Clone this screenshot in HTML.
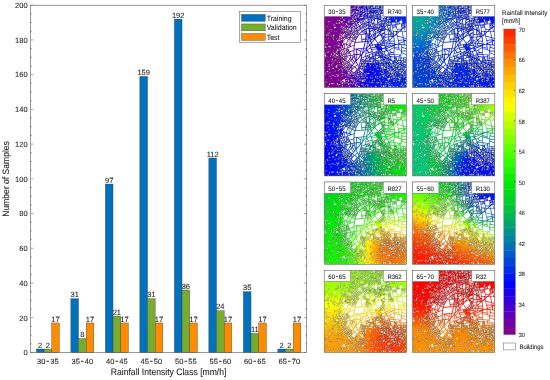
<!DOCTYPE html>
<html lang="en"><head><meta charset="utf-8"><title>Rainfall intensity classes</title>
<style>text{stroke:#262626;stroke-width:0.09px}html,body{margin:0;padding:0;background:#fff}body{width:550px;height:380px;overflow:hidden}</style>
</head><body>
<svg width="550" height="380" viewBox="0 0 550 380" text-rendering="geometricPrecision" style="display:block;font-family:'Liberation Sans',sans-serif">
<rect width="550" height="380" fill="#fff"/>
<g stroke="#333" stroke-width="0.35">
<rect x="36.35" y="349.03" width="7.67" height="3.47" fill="#0072bd"/>
<rect x="44.02" y="349.03" width="7.67" height="3.47" fill="#77ac30"/>
<rect x="51.68" y="322.98" width="7.67" height="29.52" fill="#ff8c00"/>
<rect x="70.85" y="298.67" width="7.67" height="53.83" fill="#0072bd"/>
<rect x="78.52" y="338.61" width="7.67" height="13.89" fill="#77ac30"/>
<rect x="86.18" y="322.98" width="7.67" height="29.52" fill="#ff8c00"/>
<rect x="105.35" y="184.06" width="7.67" height="168.44" fill="#0072bd"/>
<rect x="113.02" y="316.03" width="7.67" height="36.47" fill="#77ac30"/>
<rect x="120.68" y="322.98" width="7.67" height="29.52" fill="#ff8c00"/>
<rect x="139.85" y="76.40" width="7.67" height="276.10" fill="#0072bd"/>
<rect x="147.52" y="298.67" width="7.67" height="53.83" fill="#77ac30"/>
<rect x="155.18" y="322.98" width="7.67" height="29.52" fill="#ff8c00"/>
<rect x="174.35" y="19.09" width="7.67" height="333.41" fill="#0072bd"/>
<rect x="182.02" y="289.99" width="7.67" height="62.51" fill="#77ac30"/>
<rect x="189.68" y="322.98" width="7.67" height="29.52" fill="#ff8c00"/>
<rect x="208.85" y="158.01" width="7.67" height="194.49" fill="#0072bd"/>
<rect x="216.52" y="310.82" width="7.67" height="41.68" fill="#77ac30"/>
<rect x="224.18" y="322.98" width="7.67" height="29.52" fill="#ff8c00"/>
<rect x="243.35" y="291.72" width="7.67" height="60.78" fill="#0072bd"/>
<rect x="251.02" y="333.40" width="7.67" height="19.10" fill="#77ac30"/>
<rect x="258.68" y="322.98" width="7.67" height="29.52" fill="#ff8c00"/>
<rect x="277.85" y="349.03" width="7.67" height="3.47" fill="#0072bd"/>
<rect x="285.52" y="349.03" width="7.67" height="3.47" fill="#77ac30"/>
<rect x="293.18" y="322.98" width="7.67" height="29.52" fill="#ff8c00"/>
</g>
<g font-size="7.5" fill="#262626" text-anchor="middle">
<text x="40.18" y="347.63">2</text>
<text x="47.85" y="347.63">2</text>
<text x="55.52" y="321.58">17</text>
<text x="74.68" y="297.27">31</text>
<text x="82.35" y="337.21">8</text>
<text x="90.02" y="321.58">17</text>
<text x="109.18" y="182.66">97</text>
<text x="116.85" y="314.63">21</text>
<text x="124.52" y="321.58">17</text>
<text x="143.68" y="75.00">159</text>
<text x="151.35" y="297.27">31</text>
<text x="159.02" y="321.58">17</text>
<text x="178.18" y="17.69">192</text>
<text x="185.85" y="288.59">36</text>
<text x="193.52" y="321.58">17</text>
<text x="212.68" y="156.61">112</text>
<text x="220.35" y="309.42">24</text>
<text x="228.02" y="321.58">17</text>
<text x="247.18" y="290.32">35</text>
<text x="254.85" y="332.00">11</text>
<text x="262.52" y="321.58">17</text>
<text x="281.68" y="347.63">2</text>
<text x="289.35" y="347.63">2</text>
<text x="297.02" y="321.58">17</text>
</g>
<rect x="30.6" y="5.2" width="276.00" height="347.30" fill="none" stroke="#555" stroke-width="0.6"/>
<path d="M30.6 352.50h2.8M306.6 352.50h-2.8M30.6 343.82h1.4M306.6 343.82h-1.4M30.6 335.13h1.4M306.6 335.13h-1.4M30.6 326.45h1.4M306.6 326.45h-1.4M30.6 317.77h2.8M306.6 317.77h-2.8M30.6 309.09h1.4M306.6 309.09h-1.4M30.6 300.40h1.4M306.6 300.40h-1.4M30.6 291.72h1.4M306.6 291.72h-1.4M30.6 283.04h2.8M306.6 283.04h-2.8M30.6 274.36h1.4M306.6 274.36h-1.4M30.6 265.68h1.4M306.6 265.68h-1.4M30.6 256.99h1.4M306.6 256.99h-1.4M30.6 248.31h2.8M306.6 248.31h-2.8M30.6 239.63h1.4M306.6 239.63h-1.4M30.6 230.94h1.4M306.6 230.94h-1.4M30.6 222.26h1.4M306.6 222.26h-1.4M30.6 213.58h2.8M306.6 213.58h-2.8M30.6 204.90h1.4M306.6 204.90h-1.4M30.6 196.21h1.4M306.6 196.21h-1.4M30.6 187.53h1.4M306.6 187.53h-1.4M30.6 178.85h2.8M306.6 178.85h-2.8M30.6 170.17h1.4M306.6 170.17h-1.4M30.6 161.48h1.4M306.6 161.48h-1.4M30.6 152.80h1.4M306.6 152.80h-1.4M30.6 144.12h2.8M306.6 144.12h-2.8M30.6 135.44h1.4M306.6 135.44h-1.4M30.6 126.75h1.4M306.6 126.75h-1.4M30.6 118.07h1.4M306.6 118.07h-1.4M30.6 109.39h2.8M306.6 109.39h-2.8M30.6 100.71h1.4M306.6 100.71h-1.4M30.6 92.02h1.4M306.6 92.02h-1.4M30.6 83.34h1.4M306.6 83.34h-1.4M30.6 74.66h2.8M306.6 74.66h-2.8M30.6 65.98h1.4M306.6 65.98h-1.4M30.6 57.29h1.4M306.6 57.29h-1.4M30.6 48.61h1.4M306.6 48.61h-1.4M30.6 39.93h2.8M306.6 39.93h-2.8M30.6 31.25h1.4M306.6 31.25h-1.4M30.6 22.56h1.4M306.6 22.56h-1.4M30.6 13.88h1.4M306.6 13.88h-1.4M30.6 5.20h2.8M306.6 5.20h-2.8" stroke="#555" stroke-width="0.5" fill="none"/>
<g font-size="7.5" fill="#262626" text-anchor="end">
<text x="27.6" y="355.25">0</text>
<text x="27.6" y="320.52">20</text>
<text x="27.6" y="285.79">40</text>
<text x="27.6" y="251.06">60</text>
<text x="27.6" y="216.33">80</text>
<text x="27.6" y="181.60">100</text>
<text x="27.6" y="146.87">120</text>
<text x="27.6" y="112.14">140</text>
<text x="27.6" y="77.41">160</text>
<text x="27.6" y="42.68">180</text>
<text x="27.6" y="7.95">200</text>
</g>
<g font-size="7.5" fill="#262626" text-anchor="middle">
<text x="47.85" y="363.8">30<tspan font-size="10.5" dx="0.7">-</tspan><tspan dx="0.7">35</tspan></text>
<text x="82.35" y="363.8">35<tspan font-size="10.5" dx="0.7">-</tspan><tspan dx="0.7">40</tspan></text>
<text x="116.85" y="363.8">40<tspan font-size="10.5" dx="0.7">-</tspan><tspan dx="0.7">45</tspan></text>
<text x="151.35" y="363.8">45<tspan font-size="10.5" dx="0.7">-</tspan><tspan dx="0.7">50</tspan></text>
<text x="185.85" y="363.8">50<tspan font-size="10.5" dx="0.7">-</tspan><tspan dx="0.7">55</tspan></text>
<text x="220.35" y="363.8">55<tspan font-size="10.5" dx="0.7">-</tspan><tspan dx="0.7">60</tspan></text>
<text x="254.85" y="363.8">60<tspan font-size="10.5" dx="0.7">-</tspan><tspan dx="0.7">65</tspan></text>
<text x="289.35" y="363.8">65<tspan font-size="10.5" dx="0.7">-</tspan><tspan dx="0.7">70</tspan></text>
</g>
<text transform="translate(168.60 374.8) scale(0.92 1)" font-size="9.35" fill="#262626" text-anchor="middle">Rainfall Intensity Class [mm/h]</text>
<text transform="translate(9.3 178.9) rotate(-90) scale(0.92 1)" font-size="9.3" fill="#262626" text-anchor="middle">Number of Samples</text>
<rect x="239.3" y="11.5" width="61.4" height="31" fill="#fff" stroke="#555" stroke-width="0.5"/>
<rect x="241.5" y="14.40" width="23.7" height="6.9" fill="#0072bd" stroke="#333" stroke-width="0.35"/>
<text transform="translate(266.7 20.70) scale(0.915 1)" font-size="7.6" fill="#262626">Training</text>
<rect x="241.5" y="23.95" width="23.7" height="6.9" fill="#77ac30" stroke="#333" stroke-width="0.35"/>
<text transform="translate(266.7 30.25) scale(0.915 1)" font-size="7.6" fill="#262626">Validation</text>
<rect x="241.5" y="33.50" width="23.7" height="6.9" fill="#ff8c00" stroke="#333" stroke-width="0.35"/>
<text transform="translate(266.7 39.80) scale(0.915 1)" font-size="7.6" fill="#262626">Test</text>
<defs>
<g id="bld" fill="#fff" stroke="#111"><path d="M71.2 3.3 71.9 2.9 70.8 2.4ZM70.3 10.8 71.2 10.7 71.6 9.6 69.9 9.0ZM75.6 10.6 76.4 8.5 75.0 7.5 74.1 10.7ZM79.5 9.0 78.5 8.5 78.5 9.3 79.3 9.8ZM82.1 10.4 82.1 7.4 80.5 6.7 79.6 10.5ZM78.2 18.0 77.8 14.8 74.9 16.1 75.6 18.4ZM58.1 7.8 58.5 5.5 57.6 5.4 57.8 7.9ZM56.6 10.7 61.9 9.4 61.7 7.6 56.3 8.9ZM56.7 12.1 60.2 12.6 60.7 10.2 56.6 11.2ZM57.2 14.7 59.3 14.5 59.0 13.1 56.9 12.7ZM61.1 14.4 61.5 13.4 59.7 13.1 60.0 14.5ZM67.6 6.2 68.1 6.7 68.7 5.9ZM59.7 17.7 60.3 16.2 60.2 15.1 59.4 15.2 58.9 17.7ZM71.6 19.0 71.2 17.2 67.7 17.5 67.8 19.5ZM46.6 17.2 47.0 15.6 44.6 16.7ZM49.2 17.8 49.9 14.5 47.8 15.4 47.3 17.3ZM52.7 18.8 53.0 13.6 52.1 13.4 50.8 13.9 49.9 18.1ZM56.3 14.4 53.7 15.1 53.6 16.6 56.5 16.0ZM42.5 24.0 42.8 28.3 44.7 28.2 44.8 27.5 44.4 23.6 43.3 23.8ZM45.5 23.5 45.1 23.5 45.3 24.8ZM42.0 26.6 41.9 24.3 40.9 24.6ZM38.7 28.6 38.3 26.2 35.6 28.8ZM37.5 36.3 36.5 29.2 35.2 29.3 33.8 31.2 32.2 34.3 31.3 36.7ZM40.8 35.9 41.0 34.1 37.9 34.4 38.2 36.1ZM41.5 29.1 37.1 29.3 37.8 33.6 41.1 33.2ZM39.1 42.8 40.5 37.3 40.9 37.1 41.2 37.2 41.3 37.5 39.9 42.7 42.1 42.5 43.1 36.6 31.1 37.4 30.3 41.5 30.1 43.5ZM30.1 44.3 30.3 48.9 32.4 48.7 31.6 44.2ZM33.2 48.7 35.9 48.5 36.3 46.5 32.4 44.2ZM36.9 43.7 33.5 44.0 36.5 45.7ZM31.0 52.8 31.6 54.5 31.6 49.6 30.4 49.7ZM35.5 50.8 35.7 49.3 32.4 49.6 32.4 54.4ZM40.8 50.9 41.9 44.4 38.4 48.6 37.4 52.4ZM39.8 43.3 38.8 46.9 42.1 43.1ZM37.5 43.5 36.3 49.9 37.7 48.3 39.0 43.4ZM48.6 47.5 48.2 46.6 41.7 48.8 41.5 50.6ZM46.3 43.0 43.3 44.8 44.7 47.0 47.7 45.9ZM42.4 45.2 41.9 48.1 44.0 47.4 42.6 45.1ZM42.8 42.3 45.0 39.7 43.7 36.9ZM42.4 44.6 46.2 42.3 45.3 40.4 42.5 43.8ZM53.6 45.3 53.0 44.1 47.7 44.2 49.1 47.3ZM51.8 42.2 47.2 42.9 47.5 43.6 52.5 43.5ZM46.2 40.9 46.8 42.3 50.7 41.7 50.6 39.7ZM50.5 34.3 47.7 37.6 48.9 39.5 53.6 38.2ZM49.8 33.5 46.4 35.4 47.3 36.9 50.0 33.7ZM44.3 36.7 45.4 39.2 46.8 37.5 46.5 36.9 46.1 37.0 45.9 36.8 45.7 35.9ZM46.0 40.3 48.2 39.6 47.3 38.2 45.8 39.9ZM61.2 41.8 60.6 40.4 57.6 40.4 56.9 41.2 58.4 43.0ZM56.3 29.8 52.5 32.0 51.0 33.8 54.0 37.6 57.9 33.7ZM55.6 28.3 53.8 30.4 56.0 29.2ZM55.0 26.9 51.8 28.4 51.1 32.0 51.9 31.5 55.3 27.5ZM48.8 23.7 46.2 23.4 45.7 26.1ZM47.5 29.6 49.7 28.5 48.3 25.2 45.8 27.1ZM51.4 27.8 49.5 24.2 48.9 24.7 50.4 28.3ZM44.7 31.8 45.2 31.5 45.0 29.7ZM47.1 30.5 45.6 28.2 45.9 31.1ZM48.8 33.2 47.5 31.2 46.3 31.8 47.5 33.9ZM37.2 53.4 41.1 54.7 41.7 51.3 37.2 53.2ZM45.4 52.7 42.1 53.6 42.0 54.5 44.9 54.5ZM48.4 53.8 47.5 53.6 46.1 55.7 48.5 56.4ZM45.3 49.7 45.9 51.6 48.5 50.9 47.5 48.7ZM56.1 52.2 51.4 54.1 51.4 54.5 56.5 55.4ZM54.4 45.6 54.7 46.8 55.2 46.9 55.0 45.4ZM51.5 53.4 53.7 52.5 53.5 50.7 51.4 50.7ZM55.2 51.9 54.9 50.6 54.1 50.6 54.3 52.3ZM68.4 58.3 67.3 55.6 66.3 55.1 65.3 55.7 66.9 58.3ZM64.9 55.2 65.6 54.8 64.3 54.2ZM63.0 45.7 60.2 46.4 61.7 50.0 64.3 48.8ZM62.1 43.8 61.7 44.0 62.5 45.0 62.6 44.9ZM61.6 42.5 60.9 42.8 61.3 43.3 61.8 43.1ZM57.9 44.1 58.2 46.1 61.7 45.2 60.2 43.1ZM69.1 56.5 68.2 56.0 68.9 57.6ZM70.0 52.3 66.3 51.6 67.7 55.0 69.3 55.7ZM70.5 49.6 65.3 49.2 66.0 50.8 70.1 51.5ZM76.4 50.1 75.6 50.0 74.9 54.9 76.1 54.8ZM71.1 49.5 70.8 51.3 74.8 50.9 74.9 49.8ZM74.2 55.1 74.6 51.5 72.3 51.7 73.3 55.1ZM76.9 45.5 70.3 43.5 70.0 48.9 76.6 49.4ZM77.3 39.7 74.7 39.4 75.2 44.4 76.9 44.9ZM73.1 39.3 70.6 40.3 70.5 41.6 74.3 42.5 74.0 39.4ZM70.7 39.0 70.6 39.5 71.5 39.1ZM70.3 42.9 74.6 44.2 74.5 43.3 70.3 42.3ZM65.6 38.4 64.8 40.4 69.9 39.3 69.9 38.9ZM63.1 38.1 63.1 40.8 64.0 40.6 64.9 38.3ZM60.5 37.9 61.8 41.0 62.3 40.9 62.4 38.1ZM62.5 42.8 68.7 40.3 62.0 41.7ZM63.6 45.4 69.8 41.7 69.8 40.6 62.8 43.5ZM64.5 47.5 66.8 47.1 65.2 45.2 63.9 46.0ZM69.5 46.7 69.7 42.5 65.7 44.9 67.6 47.0ZM64.9 48.4 69.4 48.8 69.5 47.4 64.7 48.1ZM81.9 52.7 79.7 53.0 80.0 54.3 81.9 53.9ZM77.0 53.1 76.8 55.0 79.3 54.5 78.9 53.0ZM82.0 49.6 77.3 47.8 76.9 52.5 82.0 52.0ZM81.9 46.0 77.6 46.2 77.5 47.2 81.9 48.9ZM82.0 43.7 77.8 42.5 77.5 45.4 82.0 45.3ZM81.9 40.2 78.0 39.8 77.9 41.8 81.9 42.9ZM81.9 35.6 80.2 36.3 80.5 39.3 81.9 39.4ZM81.9 33.5 79.8 32.9 80.0 34.5 81.9 34.7ZM73.4 31.1 74.3 34.8 79.3 34.2 79.1 32.6ZM75.1 37.6 79.4 35.9 79.2 34.9 74.6 35.4ZM75.3 38.7 79.7 39.2 79.4 36.6 75.2 38.4ZM82.0 26.8 78.4 26.6 79.4 32.1 82.0 32.8ZM75.3 26.5 72.9 28.6 73.4 30.5 78.7 31.9 77.8 26.6ZM72.4 26.4 72.7 27.8 74.2 26.5ZM69.4 26.3 69.9 30.2 72.1 28.3 71.6 26.4ZM70.8 38.4 72.8 38.6 74.5 37.9 72.6 29.7 70.5 30.7 69.9 31.3ZM82.0 22.8 80.5 22.7 81.3 26.2 82.0 26.2ZM79.8 22.6 77.8 24.4 77.8 26.1 80.8 26.2 80.0 22.6ZM77.7 22.3 77.7 23.4 78.8 22.4ZM82.0 21.3 81.3 21.3 80.4 22.1 82.0 22.2ZM77.7 20.9 77.7 21.8 79.4 22.0 80.3 21.1ZM72.0 19.5 73.1 23.8 77.2 23.6 77.0 18.8ZM73.5 25.9 74.8 25.9 76.9 24.2 73.1 24.3ZM77.4 26.1 77.3 24.8 75.9 26.0ZM69.2 25.6 73.0 25.8 72.0 21.9 68.7 22.4ZM66.1 20.3 67.4 27.0 68.9 27.9 67.9 20.1ZM61.8 21.0 60.6 22.5 63.8 24.5 63.0 20.9ZM59.0 21.4 59.9 22.0 60.7 21.2ZM56.6 28.7 60.4 26.7 60.4 25.1 57.6 26.0 56.1 27.7ZM64.5 31.2 64.1 29.2 61.1 29.6 61.0 31.6ZM63.3 24.9 62.5 24.4 61.1 24.8 61.0 29.0 64.1 28.5ZM64.1 33.7 63.4 32.0 59.8 32.4 61.7 35.2ZM60.1 37.1 62.2 37.4 62.2 36.9 64.6 34.9 64.3 34.3 60.0 37.0ZM65.8 37.8 64.9 35.6 62.8 37.4ZM70.2 38.1 69.9 36.2 65.9 36.3 66.5 37.8ZM69.3 31.8 65.4 35.1 65.6 35.5 69.8 35.4ZM64.1 32.0 65.1 34.4 68.4 31.6ZM35.2 61.2 35.6 61.8 37.2 58.3 36.0 58.3ZM34.4 64.3 34.9 64.6 34.9 63.0 34.7 63.0ZM33.8 66.7 34.9 66.9 34.9 65.6 34.2 65.1ZM37.3 67.4 35.5 66.1 35.5 67.1ZM39.1 67.7 39.0 65.7 37.6 64.8 35.8 63.1 35.5 63.0 35.5 65.1ZM38.9 63.8 37.3 63.4 38.1 64.2 38.9 64.7ZM33.4 68.2 34.6 69.3 34.7 67.7 33.6 67.5ZM32.8 70.6 34.5 70.8 34.5 70.4 33.2 69.1ZM45.1 67.8 43.0 67.7 43.4 68.6 45.2 68.7ZM48.6 73.3 48.1 72.3 47.7 72.3 47.7 73.3ZM45.5 61.1 46.8 61.0 46.8 60.0 45.4 60.3ZM61.2 81.9 61.4 79.8 60.7 80.0 60.4 81.9ZM66.5 81.9 66.3 80.2 65.4 80.4 65.0 81.9ZM72.4 76.5 72.6 75.6 71.4 76.0ZM45.9 78.8 46.0 78.5 45.2 78.5 45.3 78.8ZM46.5 77.5 45.1 77.5 45.2 77.7 46.4 77.8ZM37.6 76.3 39.1 76.7 39.6 74.5 38.0 74.5ZM35.4 74.3 34.9 74.4 34.5 75.2 35.3 75.5ZM24.5 74.5 23.5 74.7 24.0 76.5 24.7 76.2ZM17.6 75.0 21.3 77.4 20.4 73.8ZM5.7 63.4 4.7 63.1 4.7 64.3 5.8 64.3ZM7.2 69.5 7.3 70.4 7.5 70.4 7.6 69.4ZM11.9 48.6 12.2 50.9 14.5 50.5ZM8.2 56.9 7.8 56.0 7.3 56.5ZM2.5 51.6 3.1 51.6 3.2 50.6ZM1.8 49.6 0.4 49.0 0.4 50.8 1.5 51.7ZM26.6 11.7 25.2 10.4 25.1 11.6ZM22.5 7.3 23.1 6.7 21.9 5.2 21.5 5.6ZM38.8 12.8 39.6 11.0 35.5 11.9 35.5 12.5ZM40.7 8.3 38.5 7.4 38.2 8.0 40.5 8.9ZM4.2 22.5 3.8 21.7 3.4 22.8ZM9.7 21.7 9.9 23.0 12.2 22.8 11.4 21.4ZM9.3 19.3 9.4 20.4 10.4 20.2 10.3 19.2ZM6.6 41.1 6.0 40.4 3.5 41.4 4.1 41.8ZM12.3 39.5 12.5 39.1 11.3 38.7 11.2 38.8ZM14.2 36.9 13.9 39.0 14.3 39.0 14.5 36.9ZM18.3 33.9 16.7 33.1 16.3 34.1 18.0 34.9ZM19.9 28.3 17.8 30.8 19.3 31.7 21.0 28.1ZM16.3 23.2 16.2 23.8 16.6 23.8 16.6 23.5ZM24.5 22.4 24.1 22.1 22.3 23.1 23.3 24.2ZM40.6 14.4 43.1 16.8 43.6 16.4 43.2 12.9ZM39.0 15.4 40.4 17.4 41.6 16.0 40.2 14.7ZM33.4 21.8 35.0 20.5 34.4 19.8 32.3 20.4ZM36.9 19.2 35.6 16.8 33.8 18.1 35.5 20.2ZM35.2 28.1 37.5 25.8 36.6 24.1 33.9 26.4ZM39.1 22.8 37.0 23.8 37.9 25.5 39.9 24.3ZM37.3 19.6 35.8 20.7 38.9 22.4ZM24.3 24.1 26.3 25.2 27.1 23.8 25.1 23.0ZM21.9 38.5 23.6 33.9 21.8 33.0 18.6 37.1ZM20.0 32.1 19.1 34.1 18.4 36.1 21.1 32.6ZM24.8 39.7 24.5 34.3 24.1 34.2 22.5 38.7ZM25.3 40.0 27.4 35.7 25.0 34.5ZM27.0 40.6 29.9 39.5 30.3 37.3 27.9 36.1 26.0 40.2ZM18.7 39.6 19.3 38.2 18.2 37.6 17.6 38.4ZM16.5 44.8 17.3 43.1 16.5 42.8 16.1 44.9ZM19.7 43.4 18.2 42.5 17.4 44.4ZM18.5 41.8 20.3 43.0 19.8 38.9ZM23.3 42.2 21.2 38.8 20.4 38.4 20.9 43.1ZM26.0 41.0 22.3 39.4 23.8 41.8ZM26.2 49.8 25.5 48.3 22.0 49.5 22.4 50.5ZM29.5 49.2 29.3 45.8 25.7 46.7 26.9 49.7ZM23.8 42.6 25.3 46.0 29.3 45.0 29.5 41.4 29.7 40.3ZM26.0 51.6 25.8 50.6 23.6 51.0 22.0 55.1 23.5 56.2ZM24.6 57.0 26.6 54.5 26.2 52.7 24.1 56.6ZM26.7 55.4 25.1 57.4 28.1 59.6 28.9 58.6ZM27.8 54.3 27.2 55.0 29.3 58.1 30.2 57.1ZM31.2 55.9 30.2 53.0 30.0 51.7 28.4 53.7 30.7 56.5ZM19.5 64.1 18.8 63.0 19.1 64.3ZM26.7 69.2 25.8 68.8 25.4 69.4 26.0 69.9ZM32.6 63.9 30.3 62.2 27.3 65.4 29.9 67.3ZM29.0 62.6 29.8 61.8 28.2 60.6 27.4 61.6ZM30.9 61.7 33.7 63.8 34.3 61.3 33.2 59.8ZM32.9 59.2 31.6 56.7 28.7 60.1 30.4 61.3ZM33.8 59.3 34.6 60.4 37.3 50.0 32.1 56.0ZM7.1 50.8 7.4 50.5 6.4 49.8 6.3 50.0Z" stroke-opacity="0.3" stroke-width="0.15"/><path d="M81.4 0.3 81.3 0.9 82.0 1.0 82.0 0.3ZM80.5 0.3 80.4 0.8 80.9 0.8 81.0 0.3ZM79.8 2.0 80.9 2.1 80.8 1.5 79.9 1.4ZM79.5 3.1 81.3 3.5 81.0 2.4 79.7 2.3ZM82.0 3.6 82.0 1.5 81.4 1.5 81.8 3.6ZM78.0 5.0 78.6 5.2 79.2 3.6 78.3 3.4ZM78.9 5.4 79.3 4.4 79.2 4.3 78.8 5.4ZM79.7 5.7 80.0 4.8 79.5 4.6 79.1 5.5ZM80.6 6.2 80.9 5.2 80.2 4.8 79.9 5.9ZM81.2 4.0 79.5 3.6 79.3 4.2 80.9 5.0ZM82.0 6.8 82.0 4.2 81.7 4.1 81.1 6.4ZM76.4 0.3 76.7 1.4 77.8 0.3ZM74.6 0.3 74.9 1.5 76.3 1.3 76.1 0.3ZM75.2 2.8 76.3 1.7 76.3 1.6 75.0 1.8ZM74.1 0.2 74.1 3.2 74.6 3.4 74.7 3.3ZM75.7 4.0 76.4 2.8 76.1 2.7 75.0 3.7ZM77.5 4.8 77.6 4.6 76.9 4.1 76.7 4.4ZM77.7 3.2 77.2 3.9 77.5 4.2ZM78.2 0.8 76.3 2.5 77.8 2.8ZM72.0 2.2 73.6 1.5 73.6 1.0 71.9 1.2ZM73.6 2.9 73.6 1.8 72.3 2.3ZM70.8 0.3 70.6 1.6 71.7 2.1 71.5 0.3ZM68.2 0.3 68.1 0.5 69.1 0.9 69.2 0.3ZM68.5 2.8 69.9 1.9 69.4 1.6 68.2 1.6ZM68.9 4.6 70.7 3.7 70.1 2.3 68.6 3.4ZM71.3 7.1 71.8 6.3 71.3 5.6 70.4 6.8ZM72.9 4.6 72.2 4.3 71.6 5.1 72.1 5.8ZM72.7 7.8 72.9 7.2 72.1 6.9 71.8 7.4ZM73.2 8.0 73.4 7.4 73.1 7.3 73.0 7.9ZM74.2 8.3 74.3 7.9 73.7 7.6 73.5 8.0ZM72.8 5.8 72.5 6.4 73.1 6.6 73.3 6.0ZM75.1 5.5 74.1 5.2 74.0 5.8 74.9 6.0ZM75.4 4.4 74.8 4.1 74.3 5.0 75.2 5.3ZM72.9 5.6 73.7 5.8 74.0 3.8ZM69.8 8.4 70.4 8.6 70.6 7.5 69.5 7.0ZM72.7 10.6 73.3 9.7 72.3 9.2 71.8 10.7ZM73.5 10.6 73.7 10.0 73.6 9.9 73.1 10.6ZM74.1 8.9 72.6 8.3 72.3 8.9 73.9 9.7ZM77.4 10.5 76.4 9.9 76.2 10.6ZM77.9 10.6 77.9 9.5 76.8 8.7 76.5 9.7ZM79.1 10.5 79.2 10.4 78.1 9.6 78.1 10.5ZM79.7 7.9 78.5 7.6 78.5 8.0 79.6 8.5ZM77.7 5.5 76.6 8.0 78.0 8.9 77.9 5.5ZM75.9 4.7 75.7 5.6 75.8 5.6 76.4 4.9ZM75.2 7.0 76.1 7.7 76.6 6.5 75.5 6.2ZM71.7 16.6 72.7 16.2 72.8 14.2 71.2 14.5ZM77.6 14.2 77.4 13.7 76.5 14.3 76.6 14.7ZM72.0 17.9 73.6 17.4 73.2 16.7 71.9 17.3ZM72.2 19.0 73.5 18.8 73.2 17.8 72.0 18.2ZM74.3 18.7 73.8 17.7 73.5 17.8 73.8 18.7ZM75.0 18.6 74.2 16.2 73.4 16.6 74.6 18.6ZM65.8 0.3 65.7 0.5 67.2 0.6 67.3 0.3ZM64.1 0.2 64.1 0.6 65.4 0.6 65.5 0.2ZM64.0 2.2 65.4 1.6 65.0 1.2 64.1 1.1ZM66.9 1.2 65.4 1.1 65.8 1.6ZM61.0 0.2 62.7 2.7 63.4 2.5 63.6 0.2ZM64.9 4.2 64.7 2.6 63.7 2.9 64.0 4.4ZM64.9 5.8 65.1 5.3 65.0 4.5 64.1 4.7ZM66.3 5.8 66.1 5.0 65.8 5.7 65.8 6.0ZM67.5 5.6 67.0 4.4 66.6 4.5 67.0 5.7ZM67.9 2.6 67.1 2.7 66.6 3.9 68.2 3.5ZM67.8 2.1 67.6 1.5 67.3 2.1ZM65.2 2.3 65.5 4.2 66.0 3.2 65.9 2.1ZM58.6 0.3 59.3 1.4 60.9 1.0 60.4 0.3ZM60.2 3.0 60.7 2.6 60.3 1.8 59.6 1.9ZM61.5 1.9 61.3 1.5 60.5 1.7 60.9 2.4ZM60.6 3.5 61.9 2.4 61.7 2.1 60.4 3.2ZM61.4 5.0 62.3 4.4 61.5 3.5 60.8 4.0ZM62.0 6.1 63.8 5.1 63.3 4.4 61.6 5.4ZM62.5 6.8 63.3 6.6 63.1 5.8 62.2 6.3ZM64.5 6.3 63.9 5.4 63.4 5.7 63.7 6.5ZM57.3 0.3 58.1 1.1 58.4 0.9 58.0 0.3ZM56.2 0.2 56.7 1.6 57.8 1.2 57.0 0.2ZM57.0 2.2 58.1 2.1 58.5 1.1 56.8 1.8ZM55.4 0.3 55.5 1.0 56.1 0.8 56.0 0.3ZM55.9 4.5 56.2 4.5 56.1 2.6 55.7 2.7ZM56.8 4.6 57.9 2.4 56.5 2.6 56.6 4.5ZM58.7 4.8 57.6 3.9 57.2 4.6ZM59.4 2.8 58.1 3.9 58.8 4.5 60.0 3.7ZM58.7 1.5 58.4 2.1 59.1 2.6 59.2 2.5ZM57.6 3.6 57.9 3.8 59.0 2.8 58.2 2.3ZM55.9 5.2 57.0 5.4 56.9 5.2 55.9 5.0ZM56.1 6.5 57.0 6.6 56.9 5.7 56.0 5.5ZM56.4 8.3 57.1 8.1 57.0 7.0 56.2 6.8ZM59.4 7.6 59.1 6.3 58.8 7.7ZM61.2 7.2 59.6 5.5 59.4 5.5 59.9 7.5ZM61.9 7.0 61.2 5.7 60.0 5.6 61.4 7.1ZM61.8 12.8 61.9 12.5 61.1 11.1 60.8 12.6ZM61.9 10.6 61.2 10.4 61.1 10.6 62.1 12.2ZM64.5 14.1 64.5 12.5 62.7 12.7 62.7 14.3ZM65.6 14.0 65.9 12.4 65.1 12.5 65.1 14.0ZM68.2 13.7 68.2 12.2 67.9 12.2 67.9 13.7ZM70.5 13.6 70.1 11.9 69.8 11.9 69.9 13.6ZM69.7 10.4 69.0 10.4 68.9 11.5 69.9 11.4ZM68.3 9.6 68.3 10.1 69.6 10.0ZM66.6 8.8 66.5 9.0 67.8 9.6 67.8 9.3ZM66.4 10.1 67.7 9.8 66.6 9.3ZM69.2 8.3 67.9 8.8 69.4 9.3ZM68.8 6.6 68.4 7.1 69.1 8.0ZM66.0 6.5 65.8 8.1 66.8 8.4 67.8 7.1 67.0 6.3ZM65.3 6.7 64.6 8.4 64.4 8.8 65.2 8.8 65.4 6.7ZM62.2 7.5 62.3 8.7 63.6 8.8 64.4 7.0ZM62.4 10.1 63.0 10.1 63.2 9.3 62.4 9.3ZM65.1 10.3 65.2 9.4 64.2 9.4 64.0 9.6 64.4 10.2ZM63.2 12.1 63.4 11.8 63.3 11.4 62.9 12.2ZM63.9 10.7 63.5 10.8 63.4 11.1 63.5 11.5ZM64.9 11.9 65.0 10.5 64.2 10.5 63.5 12.1ZM57.2 15.6 58.6 15.8 58.7 15.3 57.2 15.4ZM57.5 17.9 58.3 17.8 58.6 16.1 57.2 16.0ZM61.3 17.5 61.7 16.0 61.2 16.0 60.9 16.7 61.0 17.5ZM61.9 15.0 61.7 15.0 61.5 15.7 61.7 15.7ZM62.7 17.4 62.9 16.4 61.9 16.1 61.6 17.5ZM64.0 17.3 64.1 16.8 63.1 16.5 62.9 17.4ZM64.2 15.9 62.7 15.8 62.5 16.1 64.1 16.6ZM64.5 14.6 63.3 14.7 62.8 15.5 64.3 15.7ZM62.3 14.9 62.0 15.9 62.3 16.0 62.9 14.9ZM65.7 17.1 65.5 16.1 64.8 16.0 64.6 17.2ZM66.7 17.0 66.6 16.2 65.8 16.1 66.0 17.1ZM66.4 14.5 65.0 14.6 64.9 15.7 66.5 15.9ZM57.7 19.5 58.7 19.7 58.5 18.3 57.5 18.4ZM58.8 18.3 58.9 19.4 59.4 18.2ZM57.8 21.0 58.2 20.9 58.7 19.9 57.7 19.8ZM59.7 20.7 59.7 20.1 59.4 20.1 59.1 20.8ZM60.2 20.6 60.6 18.1 60.3 18.2 60.0 18.9 59.9 20.7ZM62.4 20.4 62.1 19.1 60.6 19.8 60.5 20.6ZM61.9 18.0 60.9 18.1 60.7 19.6 62.1 18.9ZM63.0 20.3 63.2 19.0 62.3 18.9 62.6 20.3ZM64.7 20.0 64.5 19.2 63.5 19.1 63.3 20.2ZM64.3 17.8 62.2 18.0 62.3 18.7 64.5 18.9ZM66.4 19.7 66.2 17.6 64.9 17.8 65.3 19.9ZM67.2 19.6 67.1 17.6 66.6 17.6 66.8 19.7ZM53.3 0.3 53.4 1.5 54.9 1.0 54.8 0.3ZM53.5 2.7 55.1 2.5 54.9 1.3 53.4 1.8ZM52.3 0.3 52.2 1.0 52.7 1.0 52.7 0.3ZM51.5 0.3 51.5 1.0 52.0 1.0 52.1 0.3ZM51.5 1.9 53.2 2.1 53.2 1.2 51.5 1.3ZM51.5 3.1 53.3 2.8 53.2 2.3 51.5 2.2ZM49.0 0.3 49.2 2.4 50.9 2.1 51.0 0.3ZM50.9 3.2 51.0 2.3 50.3 2.4 50.7 3.2ZM49.4 5.1 50.7 4.9 50.6 3.7 49.3 3.9ZM52.0 6.8 52.0 6.5 51.2 6.1 51.2 6.8ZM52.7 5.0 52.4 5.0 52.3 6.1 53.2 6.4ZM52.1 3.5 51.1 3.7 51.2 4.7 52.6 4.7ZM49.8 8.4 50.7 8.3 50.5 7.3 49.7 7.2ZM51.6 8.2 51.4 7.3 50.9 7.3 51.0 8.2ZM49.9 9.7 51.9 9.3 51.8 8.4 49.8 8.6ZM53.0 9.0 51.9 7.3 51.7 7.3 52.1 9.2ZM54.0 8.8 53.5 7.4 52.3 7.4 53.3 8.9ZM55.8 8.4 55.5 6.7 54.2 7.4 54.6 8.7ZM55.5 5.9 53.8 6.5 54.0 7.2 55.6 6.4ZM55.3 4.7 53.5 5.6 53.7 6.3 55.5 5.7ZM55.2 3.5 54.3 4.3 54.5 4.9 55.3 4.4ZM55.1 3.0 54.4 3.1 54.0 3.7 54.2 4.1 55.2 3.3ZM53.2 4.8 53.4 5.3 54.2 4.9 53.8 4.0ZM52.7 3.4 53.1 4.5 54.0 3.2ZM46.8 2.7 48.7 2.5 48.6 1.6 46.9 1.2ZM45.0 0.2 45.0 1.6 45.7 1.8 45.3 0.2ZM45.2 2.8 46.2 2.7 46.2 2.5 45.1 2.2ZM43.5 0.3 43.9 1.6 44.5 1.4 44.5 0.3ZM42.6 0.2 42.8 1.9 43.7 1.7 43.2 0.2ZM44.5 2.9 44.5 2.0 42.8 2.4 42.9 3.0ZM43.8 4.3 43.7 4.1 43.1 4.6 43.1 4.8ZM45.7 4.1 45.6 3.4 43.8 3.5 44.3 4.7ZM45.1 6.1 45.3 4.6 43.1 5.4 43.2 5.9ZM44.8 7.9 45.0 6.6 43.3 6.4 43.4 7.7ZM45.8 8.0 45.8 7.7 45.1 7.6 45.0 7.9ZM44.1 9.8 44.3 8.4 43.5 8.3 43.6 9.8ZM45.8 9.8 45.8 8.7 44.7 8.5 44.4 9.8ZM46.0 10.5 45.9 10.0 43.7 10.0 43.8 10.9ZM47.0 10.3 47.5 7.9 46.4 7.9 46.4 10.4ZM49.3 9.7 49.2 8.7 47.9 8.8 47.6 10.1ZM49.2 7.9 48.1 7.9 48.0 8.4 49.2 8.4ZM49.1 6.6 48.5 6.7 48.8 7.3 49.1 7.3ZM49.0 5.7 48.1 5.8 48.4 6.4 49.0 6.3ZM47.3 7.3 48.4 7.3 48.4 7.2 47.4 7.1ZM46.4 6.1 46.4 6.4 47.1 6.3 47.2 6.0ZM46.4 7.4 47.0 7.4 47.1 6.6 46.3 6.7ZM48.8 3.6 48.1 3.9 48.3 5.3 49.0 5.1ZM48.8 3.0 47.9 3.1 48.0 3.7 48.8 3.4ZM46.3 3.3 46.3 4.8 47.5 4.3 47.4 3.2ZM47.8 5.3 47.7 4.6 47.0 4.8 46.8 5.5ZM45.1 12.0 44.7 11.3 43.8 11.5 43.9 12.1ZM45.8 13.1 45.6 12.8 44.0 12.9 44.0 13.7ZM45.6 11.1 45.0 11.2 45.4 12.0 46.0 12.0ZM45.5 14.1 45.4 13.6 44.1 14.0 44.1 14.5ZM46.8 13.7 46.5 13.2 45.8 13.5 45.8 14.0ZM45.3 15.7 44.5 14.8 44.2 14.9 44.3 16.1ZM47.4 14.8 47.0 14.0 44.8 14.7 45.6 15.6ZM50.7 13.3 50.7 13.1 49.3 13.0 47.6 14.0 47.9 14.5ZM49.8 10.2 49.2 10.3 49.6 12.2 49.9 12.3 50.4 12.0ZM47.7 11.5 48.7 10.9 47.4 11.2ZM48.3 12.1 49.4 12.2 49.1 11.1 47.9 11.7ZM46.1 11.0 46.6 12.0 47.8 12.0 46.6 10.9ZM47.5 13.8 48.8 13.0 47.3 12.8 47.1 13.0ZM51.7 11.5 50.5 11.4 50.8 12.4 51.3 12.4 52.0 12.3ZM53.1 12.2 53.2 11.6 52.1 11.5 52.4 12.5ZM53.3 10.6 52.7 10.5 52.6 11.3 53.3 11.3ZM51.6 10.3 51.7 11.2 52.3 11.2 52.4 10.5ZM53.4 9.5 52.6 9.6 52.3 10.2 53.3 10.4ZM51.4 9.8 51.5 10.1 52.1 10.2 52.4 9.7ZM50.0 10.2 50.3 11.1 51.4 11.2 51.2 9.9ZM45.2 19.6 45.3 17.5 44.4 17.3 44.7 19.7ZM47.9 18.6 47.8 18.2 45.6 17.6 45.5 19.4ZM45.9 20.1 45.9 19.6 44.7 20.0 44.8 20.3ZM45.9 20.9 45.9 20.4 44.8 20.7 44.9 21.0ZM46.3 20.9 46.7 19.4 46.2 19.5ZM48.6 20.7 48.1 18.8 47.0 19.2 46.6 20.9ZM45.7 22.7 45.7 21.5 44.9 21.6 45.0 22.8ZM47.2 22.5 46.9 21.4 45.9 21.5 45.9 22.7ZM49.0 22.2 48.7 21.1 47.3 21.3 47.7 22.4ZM50.5 22.0 51.0 21.0 49.3 21.2 49.5 22.1ZM51.8 21.8 51.5 20.9 51.4 20.9 50.8 22.0ZM50.9 19.2 50.4 19.4 51.0 20.7 51.4 20.6ZM49.9 19.6 50.3 20.7 50.7 20.6 50.1 19.5ZM48.9 20.0 49.1 20.9 50.0 20.8 49.5 19.7ZM50.8 18.9 48.5 18.3 48.8 19.7ZM52.6 21.7 52.7 19.4 51.1 19.0 52.0 21.8ZM55.6 21.3 55.7 20.2 53.2 19.8 53.1 21.6ZM57.2 21.0 57.2 20.6 56.0 20.4 56.0 21.2ZM57.2 19.7 54.9 19.7 57.2 20.3ZM57.1 19.2 55.8 19.0 55.8 19.5 57.2 19.5ZM56.9 17.7 55.7 18.6 55.7 18.8 57.1 19.0ZM54.7 19.3 54.8 19.5 55.6 19.5 55.5 18.7ZM56.8 16.6 55.2 17.0 56.0 18.1 56.9 17.5ZM54.2 17.2 54.7 19.0 55.8 18.2 55.0 17.0ZM53.3 17.4 53.3 18.4 54.2 18.0 54.0 17.2ZM53.3 19.5 54.6 19.8 54.2 18.3 53.3 18.6ZM56.3 12.5 55.7 12.6 56.2 13.7 56.4 13.7ZM56.1 11.7 55.4 11.8 55.6 12.4 56.2 12.3ZM54.4 12.0 54.8 13.3 55.8 13.6 55.0 11.9ZM53.7 12.1 53.7 13.0 54.4 13.2 54.1 12.1ZM53.6 14.3 54.7 14.1 53.6 13.8ZM55.8 9.0 55.6 9.1 55.5 11.2 56.1 11.1ZM53.9 9.4 53.8 10.2 55.3 10.5 55.3 9.1ZM53.8 11.5 55.2 11.3 55.2 10.8 53.9 10.5ZM38.9 26.6 40.9 26.0 40.3 24.9 38.8 25.9ZM39.1 28.6 40.2 28.5 39.9 26.6 38.9 26.9ZM42.2 28.3 42.0 28.1 40.3 27.7 40.4 28.5ZM41.1 26.2 40.1 26.5 40.2 27.5 41.9 27.8ZM43.3 35.9 43.4 35.7 41.7 34.1 41.5 36.0ZM43.5 35.5 43.7 34.1 41.8 33.8ZM44.0 32.6 42.8 32.1 42.6 33.5 43.8 33.7ZM41.9 31.7 41.7 33.3 42.5 33.5 42.6 32.0ZM44.0 31.8 42.0 31.2 42.0 31.4 43.9 32.3ZM44.3 30.0 43.0 30.0 43.0 31.2 44.1 31.5ZM42.1 30.0 42.0 30.9 42.7 31.2 42.8 30.0ZM44.5 29.5 43.1 29.2 43.3 29.8 44.4 29.8ZM44.6 28.7 43.0 28.8 43.1 29.0 44.5 29.3ZM42.2 28.9 42.1 29.7 43.0 29.7 42.8 28.8ZM55.3 40.2 54.4 40.6 54.6 41.1 55.8 40.9ZM51.2 39.5 51.2 40.0 52.7 40.2 52.6 39.2ZM59.8 37.9 58.0 39.7 60.5 39.7ZM59.1 36.4 58.8 36.7 59.3 37.5 59.5 37.3ZM58.2 37.3 58.8 38.1 59.1 37.8 58.5 37.0ZM58.3 34.2 57.7 34.7 58.8 36.4 59.1 36.1ZM56.9 35.6 58.0 37.0 58.5 36.5 57.6 35.0ZM55.6 36.8 57.1 37.9 57.7 37.1 56.7 35.8ZM58.3 38.6 58.5 38.4 57.8 37.5 57.4 38.0ZM54.3 38.2 55.1 39.1 56.2 37.5 55.5 37.0ZM56.4 40.8 56.9 40.2 55.3 39.5ZM58.1 38.9 57.7 38.6 56.6 39.6 57.0 40.0ZM56.4 37.7 56.0 38.3 57.0 38.8 57.4 38.5ZM55.8 38.7 56.4 39.3 56.7 39.1 55.8 38.5ZM50.3 29.1 51.0 29.3 51.1 28.7ZM49.4 29.5 50.3 30.1 50.7 29.5 49.9 29.2ZM50.8 30.6 51.0 29.6 50.9 29.6 50.5 30.3ZM48.9 29.7 50.5 31.7 50.7 30.8 49.1 29.6ZM47.6 30.2 48.6 31.7 49.6 31.1 48.6 29.8ZM49.5 32.9 50.4 32.4 50.4 32.2 49.7 31.3 48.8 31.8ZM54.3 25.1 53.6 25.5 54.4 26.4 54.8 26.3ZM52.9 25.7 53.5 26.9 54.2 26.6 53.2 25.5ZM51.4 26.4 52.0 27.6 53.3 27.0 52.6 25.8ZM53.6 23.5 52.9 23.9 53.6 25.0 54.1 24.8ZM52.1 24.3 51.9 24.7 51.4 24.7 50.8 25.1 51.3 26.1 53.3 25.2 52.6 24.0ZM53.1 22.2 52.5 22.3 52.9 23.5 53.5 23.2ZM50.4 22.6 50.9 23.4 52.4 22.8 52.2 22.3ZM51.3 23.8 51.9 24.0 52.5 23.7 52.4 23.1 51.2 23.6ZM49.5 22.7 49.8 23.3 50.8 23.6 50.1 22.6ZM50.6 24.8 51.1 24.5 50.3 24.3ZM44.3 33.8 45.0 33.3 44.6 32.6 44.5 32.6ZM43.8 36.3 45.6 35.2 45.5 33.8 45.3 33.5 44.1 34.3ZM47.0 34.4 46.1 32.8 46.3 34.8ZM44.8 32.4 45.4 33.4 45.3 32.1ZM37.9 55.2 38.0 54.4 37.0 54.1 36.8 54.8ZM37.7 56.1 37.8 55.4 36.7 55.1 36.5 56.1ZM37.3 57.7 37.6 56.3 36.4 56.4 36.1 57.6ZM40.6 57.7 37.9 56.6 37.6 57.6ZM41.0 56.4 40.3 56.3 40.0 57.1 40.8 57.5ZM39.4 56.1 39.4 56.9 39.7 57.0 40.0 56.2ZM41.2 55.4 40.7 55.2 40.5 56.1 41.0 56.2ZM39.4 54.9 39.4 55.8 40.3 56.0 40.4 55.2ZM38.3 54.5 38.1 55.1 39.1 55.9 39.1 54.7ZM37.9 56.3 39.2 56.8 39.1 56.2 38.1 55.4ZM43.2 57.7 43.0 56.6 41.6 56.3 41.3 57.7ZM44.2 57.8 44.5 56.8 43.3 56.6 43.4 57.8ZM44.9 55.2 41.7 55.2 41.6 55.7 44.6 56.3ZM48.6 57.9 48.6 57.1 45.2 56.1 44.8 57.8ZM45.9 53.3 45.9 53.7 46.6 53.8 46.8 53.5ZM45.3 55.6 45.5 55.7 46.5 54.1 45.7 53.9ZM49.5 57.9 49.6 56.4 49.1 56.3 49.1 57.9ZM51.0 58.0 51.0 56.8 49.8 56.5 49.8 57.9ZM50.9 55.8 49.1 55.7 49.1 56.0 50.9 56.5ZM50.9 54.2 50.1 54.1 50.0 55.1 50.9 55.2ZM49.1 53.9 49.1 55.1 49.6 55.1 49.8 54.0ZM50.8 53.3 49.9 53.0 49.9 53.4 50.8 53.5ZM50.8 51.0 49.9 51.3 49.9 52.7 50.8 52.9ZM48.8 51.6 49.2 53.3 49.3 53.3 49.3 51.5ZM47.3 51.9 47.3 52.4 48.6 52.1 48.5 51.6ZM47.4 52.9 47.9 53.0 47.8 52.6 47.4 52.7ZM48.9 53.3 48.7 52.4 48.0 52.5 48.2 53.1ZM46.2 52.3 46.1 52.7 47.0 52.9 47.0 52.1ZM50.7 48.3 49.2 48.8 50.2 50.5 50.7 50.4ZM48.4 49.0 49.2 50.9 49.9 50.7 48.8 48.8ZM50.8 47.1 48.1 48.3 48.3 48.8 50.8 47.9ZM43.8 50.2 44.7 52.2 45.3 52.0 44.6 49.8ZM43.2 50.5 44.3 52.2 44.4 52.2 43.6 50.4ZM42.5 50.8 42.1 52.9 44.0 52.4 42.9 50.6ZM52.6 57.9 52.8 57.1 52.1 56.9 52.5 57.9ZM53.6 57.9 53.6 57.4 53.1 57.3 52.9 57.9ZM52.2 55.2 51.6 56.5 53.6 57.1 53.6 56.9ZM52.0 55.1 51.4 55.0 51.5 56.3ZM53.7 55.5 52.8 55.3 53.6 56.5ZM54.6 58.0 54.8 57.3 54.4 57.4ZM55.3 55.7 54.3 55.5 54.3 57.0 55.0 56.9ZM56.8 58.0 56.5 55.9 55.7 55.8 55.0 58.0ZM58.4 58.0 58.2 57.3 57.4 57.9 57.5 58.0ZM59.3 58.1 59.0 56.6 58.5 57.0 58.8 58.1ZM58.9 55.6 57.2 55.8 57.4 57.4 59.0 56.3ZM58.6 53.9 57.0 54.9 57.1 55.2 58.8 55.0ZM56.7 52.9 56.9 54.3 58.4 53.5 57.7 52.7ZM58.2 51.4 56.7 52.0 56.7 52.3 58.3 51.9ZM58.0 48.8 57.8 50.0 58.2 50.0ZM56.6 49.7 56.7 49.9 57.6 49.9 57.7 49.0ZM55.5 50.4 55.7 51.2 56.7 50.8 55.7 50.2ZM55.8 51.7 56.8 51.3 56.8 51.1 55.8 51.5ZM57.8 48.2 55.2 49.0 55.2 49.2 56.1 49.6 57.8 48.5ZM54.7 47.4 55.0 48.5 57.4 47.7ZM57.5 45.9 56.6 46.0 56.4 47.1 57.7 47.2ZM55.8 46.0 55.9 47.0 56.0 47.0 56.2 46.0ZM57.1 45.6 57.4 45.6 57.3 44.5ZM56.5 44.7 56.5 45.6 56.7 45.6 56.9 44.5ZM55.5 45.0 55.6 45.8 56.3 45.7 56.2 44.7ZM53.3 46.0 54.0 47.8 54.2 47.7 53.8 45.8ZM52.4 46.4 52.9 47.5 53.4 47.1 53.0 46.1ZM51.7 46.8 52.6 47.7 52.6 47.7 52.1 46.6ZM53.1 48.2 53.7 47.9 53.5 47.4 52.9 47.9ZM51.2 46.9 51.2 48.5 52.6 48.0 51.4 46.8ZM51.3 49.0 52.9 48.3 52.7 48.2 51.3 48.7ZM51.4 50.0 54.7 49.9 54.7 49.8 54.1 49.3 54.2 49.0 54.5 48.9 54.3 48.3 51.4 49.7ZM60.5 58.2 60.3 56.4 59.6 56.8 59.8 58.2ZM61.4 58.1 61.0 57.4 60.7 57.6 60.8 58.1ZM61.3 57.2 61.4 57.4 61.9 57.2 61.6 56.9ZM62.8 58.2 62.5 57.9 61.9 58.2ZM60.6 56.4 60.7 57.1 61.3 56.6 61.0 56.2ZM66.1 58.2 65.5 57.2 64.7 57.6 64.8 58.2ZM65.3 56.8 63.3 57.6 63.6 58.0ZM64.3 55.2 63.7 55.6 64.7 56.7 65.1 56.6ZM63.3 55.9 63.8 57.1 64.4 56.8 63.5 55.8ZM62.3 56.5 63.0 57.3 63.5 57.2 63.1 56.1ZM63.8 54.6 62.6 55.3 62.9 55.7 64.1 55.0ZM61.6 55.7 62.1 56.4 62.8 56.0 62.3 55.3ZM63.4 53.8 63.0 53.6 62.2 54.3 62.6 54.9 63.7 54.3ZM61.8 53.7 62.1 54.0 62.7 53.5 62.5 53.4ZM60.4 54.5 61.4 55.6 62.4 55.0 61.6 53.9ZM59.4 54.9 59.6 56.6 60.7 55.9 59.6 54.8ZM65.7 51.8 64.8 52.2 65.0 53.2 66.4 53.6ZM64.7 53.2 64.5 52.4 63.6 52.9ZM65.0 50.2 63.7 50.9 64.1 52.0 65.5 51.3ZM64.6 49.3 63.3 49.9 63.6 50.7 64.9 50.0ZM61.4 50.8 61.8 51.6 63.5 51.0 63.1 50.0ZM62.4 52.5 62.6 52.6 63.8 52.0 63.5 51.3 62.1 51.8ZM60.4 51.3 60.5 51.6 61.1 51.9 61.6 51.7 61.2 51.0ZM59.8 52.6 60.4 52.5 59.7 52.1ZM58.9 51.9 59.0 52.8 59.5 52.7 59.5 52.0 59.1 51.8ZM59.1 53.1 60.0 54.0 60.1 54.0 59.8 52.9ZM61.4 53.3 61.0 52.7 60.1 52.8 60.3 53.8ZM58.2 46.8 58.5 48.7 59.8 47.1 59.6 46.4ZM58.5 49.3 60.5 48.7 60.0 47.3 58.5 49.0ZM58.8 50.8 59.4 51.1 60.0 50.9 59.2 49.4 58.6 49.6ZM61.1 50.3 60.6 49.0 59.6 49.3 60.2 50.7ZM69.9 58.4 70.6 57.4 69.5 57.6 69.4 58.3ZM71.6 55.9 69.9 56.0 71.1 56.6ZM69.6 57.3 70.6 57.1 69.7 56.7ZM72.7 58.5 72.7 58.1 70.9 57.3 70.2 58.4ZM72.8 55.8 72.0 55.9 71.5 56.6 72.8 56.7ZM73.4 55.8 73.2 55.8 73.1 57.5 74.2 58.0ZM75.9 58.4 76.0 57.1 74.5 57.5 74.7 58.2 75.1 58.4ZM76.2 55.5 73.7 55.7 74.3 57.2 76.1 56.8ZM70.7 52.3 71.8 52.7 71.6 51.8 70.8 51.9ZM70.5 52.9 71.8 53.0 70.6 52.6ZM70.1 54.9 72.2 53.8 72.1 53.4 70.5 53.2ZM70.0 55.3 70.5 55.4 70.9 54.8ZM72.7 55.2 72.3 54.1 71.6 54.5 70.9 55.3ZM78.4 58.5 78.5 58.1 76.6 57.6 76.5 58.5ZM78.8 57.0 76.6 56.9 76.6 57.3 78.6 57.8ZM79.3 55.1 77.5 55.5 77.8 56.7 78.9 56.7ZM76.7 55.7 76.6 56.7 77.5 56.7 77.3 55.5ZM82.0 58.6 82.0 57.6 79.3 57.2 79.0 58.5ZM82.0 56.5 79.4 56.6 79.3 56.9 82.0 57.3ZM82.0 54.6 81.4 54.7 81.3 56.3 82.0 56.2ZM79.9 55.0 79.5 56.3 81.0 56.3 81.1 54.8ZM82.0 19.4 80.3 19.4 80.4 20.5 81.0 20.6 82.0 19.7ZM82.1 18.1 80.0 18.4 80.1 19.2 82.1 19.1ZM78.6 18.6 78.5 19.3 79.6 19.1 79.5 18.5ZM78.4 20.3 79.8 20.4 79.6 19.5 78.5 19.6ZM77.7 18.8 77.7 20.2 78.0 20.3 78.2 18.7ZM70.9 19.7 71.7 21.4 71.9 21.4 71.5 19.6ZM69.8 19.9 69.9 20.4 70.8 20.1 70.6 19.8ZM70.1 21.6 71.4 21.4 70.9 20.3 69.9 20.7ZM68.4 20.1 68.6 21.8 69.8 21.7 69.5 19.9ZM63.6 20.7 64.3 23.8 65.8 21.4 65.6 20.4ZM64.4 24.5 66.3 24.1 65.9 21.8 64.4 24.2ZM64.5 24.8 66.6 25.0 66.4 24.4ZM66.8 26.5 66.6 25.3 66.0 25.2 65.5 25.7ZM58.2 23.3 59.0 23.1 59.6 22.5 58.6 21.9 58.1 23.0ZM58.7 25.0 59.1 24.9 59.1 24.2 58.6 24.7ZM60.4 24.5 60.3 24.4 59.4 24.4 59.4 24.8ZM59.9 23.3 59.4 23.8 59.4 24.1 60.2 24.0ZM61.8 24.0 60.3 23.1 60.2 23.1 60.7 24.4ZM55.7 21.8 56.0 22.6 57.3 22.1 57.2 21.6ZM55.0 21.9 55.3 22.8 55.8 22.6 55.4 21.9ZM53.7 22.1 53.9 22.7 54.9 22.5 54.7 21.9ZM54.2 23.2 55.0 22.9 55.0 22.8 54.1 22.9ZM54.6 24.3 55.3 24.0 54.9 23.3 54.3 23.5ZM55.2 25.7 56.1 25.2 55.5 24.2 54.7 24.6ZM55.3 25.9 56.1 25.8 56.2 25.4ZM57.9 24.0 57.7 24.0 57.1 25.4 58.0 24.3ZM55.9 24.4 56.4 25.2 56.8 24.2ZM57.4 22.3 56.6 22.6 57.1 23.5 57.5 22.6ZM55.1 23.1 55.6 24.0 56.9 23.4 56.4 22.6ZM55.8 24.2 56.9 23.9 57.0 23.7 57.0 23.6ZM56.9 29.8 58.0 29.6 57.8 28.9 56.8 29.4ZM57.2 30.3 58.1 30.1 58.0 29.9 57.1 30.1ZM57.9 32.0 58.6 31.9 58.2 30.4 57.3 30.6ZM59.9 31.7 58.8 31.4 59.0 31.8ZM60.4 31.0 58.7 30.9 58.7 31.0 60.4 31.6ZM58.6 30.6 60.4 30.7 60.5 28.9 58.1 28.7ZM60.5 27.5 59.2 28.1 59.4 28.5 60.4 28.5ZM66.7 31.1 66.3 29.5 64.8 29.6 65.1 31.3ZM67.8 30.9 67.4 29.4 66.6 29.5 66.9 31.0ZM69.2 30.7 69.1 30.3 68.1 30.4 68.2 30.9ZM69.0 29.2 67.7 29.3 67.9 30.1 69.2 30.0ZM69.0 28.6 67.9 27.9 67.8 29.0 69.0 28.9ZM67.0 27.4 66.7 28.4 67.5 28.7 67.5 27.7ZM66.4 29.2 67.5 29.1 67.5 29.0 66.5 28.6ZM66.1 29.3 66.6 27.5 64.9 29.4ZM65.2 26.1 64.4 27.5 64.7 29.2 66.7 27.1ZM63.9 25.3 64.3 27.2 65.0 26.0ZM58.3 33.1 59.5 32.9 59.1 32.4 58.1 32.5ZM58.6 33.7 59.7 33.3 58.5 33.4ZM59.3 35.2 60.6 34.7 59.9 33.6 58.8 34.0ZM59.8 36.4 61.1 35.5 60.8 35.0 59.4 35.6ZM37.8 63.1 38.0 61.4 36.7 61.2 36.1 62.4 36.6 62.8ZM38.3 63.1 38.9 61.7 38.2 61.6 38.1 63.1ZM39.4 63.4 40.4 61.9 39.2 61.7 38.7 63.2ZM42.8 58.4 41.4 58.3 40.3 61.3 40.7 61.4ZM40.6 58.2 39.8 59.2 40.6 59.7 41.1 58.2ZM39.6 59.0 40.1 58.3 38.5 58.3ZM37.6 59.0 39.4 60.0 39.7 59.4 38.0 58.3ZM40.2 60.5 40.4 60.0 39.9 59.6 39.6 60.1ZM37.0 60.6 37.5 60.7 38.0 59.6 37.6 59.3ZM40.0 61.3 40.1 60.8 38.3 59.7 37.9 60.8ZM41.5 63.9 41.6 63.7 40.4 63.1 40.1 63.5ZM42.4 62.4 41.1 61.9 40.5 62.8 41.8 63.5ZM45.0 63.3 44.5 63.1 44.4 63.6 45.0 63.6ZM43.2 61.2 42.8 61.9 43.4 62.1 43.5 61.3ZM36.3 71.1 36.3 70.9 35.2 70.7 35.2 71.0ZM36.2 69.6 35.3 69.7 35.3 70.4 36.2 70.6ZM36.3 68.8 35.3 68.8 35.3 69.3 36.3 69.3ZM36.3 67.8 35.4 67.7 35.4 68.5 36.3 68.5ZM33.1 71.7 33.2 71.4 32.6 71.3 32.5 71.5ZM32.9 72.0 32.4 71.8 32.2 72.6 32.7 72.6ZM34.5 71.9 33.2 71.9 33.0 72.6 34.1 72.7ZM34.6 71.5 33.4 71.4 33.4 71.6 34.5 71.7ZM35.7 71.6 34.9 71.5 34.4 72.7 35.3 72.7ZM37.6 71.2 36.9 71.1 36.9 72.8 37.2 72.8ZM39.3 72.1 38.0 72.0 37.8 72.8 39.3 72.9ZM39.2 71.2 38.3 71.2 38.1 71.7 39.3 71.8ZM39.2 69.5 38.8 69.5 38.9 70.6 39.2 70.6ZM38.3 69.7 38.4 70.5 38.6 70.5 38.5 69.6ZM36.8 69.9 36.8 70.6 38.2 70.6 38.0 69.7ZM39.1 68.7 38.2 68.1 37.6 68.0 37.4 69.2 39.1 68.9ZM36.8 67.8 36.8 69.5 37.1 69.4 37.4 67.8ZM40.7 72.0 39.9 72.2 40.0 72.9 40.7 73.0ZM43.2 71.4 42.6 71.6 42.2 73.0 43.6 73.1ZM41.5 67.4 42.5 68.9 42.7 68.8 42.1 67.1ZM40.1 68.1 40.3 68.9 41.4 68.2 41.1 67.7ZM40.4 69.4 41.7 68.6 41.6 68.4 40.3 69.1ZM40.7 70.2 42.5 70.0 41.8 68.9 40.6 69.6ZM41.6 71.2 41.2 70.8 40.5 70.8 40.6 71.4ZM41.3 64.4 41.3 64.8 42.4 65.0 42.5 64.7ZM40.4 64.3 41.1 65.4 40.9 64.4ZM39.4 64.0 39.5 65.1 40.5 65.7ZM47.1 72.4 46.1 72.3 46.2 73.2 47.1 73.3ZM47.1 71.4 46.1 71.5 46.1 72.1 47.1 72.2ZM47.1 71.1 46.1 71.0 46.1 71.3ZM51.8 70.6 51.3 70.3 50.9 72.1 52.0 72.3ZM47.6 70.3 48.5 70.3 48.7 69.6 47.6 69.7ZM51.5 67.2 49.8 68.0 49.8 68.2 51.6 68.5ZM47.8 66.3 48.6 66.8 48.9 66.8 49.4 66.6 49.5 65.8ZM47.0 64.1 46.8 65.3 47.2 65.3 47.2 64.1ZM45.7 65.2 46.5 65.3 46.5 65.0 45.7 64.7ZM50.8 62.1 49.0 61.8 49.0 62.0 50.9 62.4ZM50.6 60.6 48.8 60.5 48.9 60.8 50.7 61.0ZM48.9 59.9 50.1 60.0 50.0 59.5 48.9 59.7ZM47.5 58.4 47.4 59.7 47.9 59.6ZM45.3 59.6 46.0 58.4 45.2 58.4ZM52.5 72.0 52.7 73.5 53.8 73.6ZM53.3 72.2 54.2 73.3 54.3 73.2 53.5 72.0ZM52.4 70.7 52.5 71.1 53.2 71.9 54.1 71.2ZM54.4 63.7 52.8 63.6 52.9 64.3 53.6 64.5 54.4 64.1ZM55.3 70.8 55.4 72.3 56.4 72.2 56.2 71.0ZM56.1 70.5 56.0 69.8 55.9 69.8 55.8 70.7ZM58.0 73.1 58.0 72.2 57.5 72.3 57.6 73.5ZM58.0 69.7 57.2 69.9 57.3 70.5 58.0 70.6ZM58.0 69.3 57.1 69.5 57.1 69.6 58.0 69.5ZM59.2 72.1 58.6 71.7 58.7 72.6ZM60.1 71.3 60.5 70.0 58.6 69.8 58.6 70.9 59.7 71.7ZM62.1 69.1 60.9 69.1 60.9 69.5 62.1 69.6ZM60.6 69.4 60.7 68.6 58.6 69.1ZM58.3 65.5 58.7 66.7 59.8 66.2 59.7 65.9ZM58.9 67.4 60.1 67.2 59.9 66.5 58.8 67.0ZM59.2 68.4 59.8 68.3 59.8 67.5 59.0 67.6ZM60.4 68.1 60.2 67.5 60.1 67.5 60.0 68.2ZM59.1 64.1 59.3 65.2 59.7 65.3 60.0 64.1ZM57.8 64.0 58.1 64.9 59.0 65.1 58.9 64.1ZM55.6 63.8 55.8 64.6 57.3 64.3 57.2 63.9ZM55.2 67.1 55.4 67.0 55.1 66.1 55.1 66.1ZM55.2 68.3 55.7 68.1 55.5 67.2 55.1 67.4ZM57.3 67.4 56.8 66.6 56.2 66.9 56.4 67.8ZM58.2 68.7 58.0 67.6 57.0 68.0 57.1 69.0ZM58.7 68.6 58.4 67.4 58.1 67.5 58.4 68.7ZM61.1 63.7 62.0 63.8 62.0 63.1 61.2 62.0ZM59.5 61.2 59.3 63.5 60.8 63.6 61.0 61.9ZM59.6 59.7 59.5 60.9 60.9 61.5ZM61.9 60.7 61.0 60.8 61.9 62.1ZM61.9 59.2 61.4 59.3 60.8 60.5 62.0 60.5ZM60.0 59.4 60.6 60.3 61.2 59.3ZM61.8 58.8 59.8 58.7 59.8 58.9 59.9 59.1 61.8 58.9ZM57.7 58.6 57.5 59.5 58.2 59.7 58.3 58.6ZM57.5 60.2 59.0 60.4 59.0 60.2 57.6 59.8ZM56.6 58.6 56.8 60.2 57.2 60.3 57.5 58.6ZM57.0 62.5 58.8 62.5 59.0 60.7 56.8 60.4ZM57.2 63.3 57.7 63.4 57.4 62.8 57.1 62.8ZM58.7 63.5 58.8 62.7 57.7 62.7 58.1 63.5ZM55.5 58.6 55.3 60.2 56.3 60.2 56.1 58.6ZM55.2 60.8 55.2 61.5 56.4 61.4 56.3 60.8ZM56.6 63.3 56.4 62.0 56.1 62.0 56.2 63.3ZM52.0 60.2 53.7 60.4 53.7 59.7 52.1 59.7ZM51.0 58.5 51.1 59.2 51.8 59.2 51.9 58.5ZM51.2 60.0 51.7 60.0 51.8 59.6 51.2 59.6ZM53.2 61.9 53.1 60.5 52.4 60.4 52.4 61.9ZM51.5 63.0 52.2 63.0 52.3 62.1 51.4 62.2ZM62.7 69.2 63.1 67.5 62.6 67.5ZM63.6 64.9 62.6 65.2 62.6 65.5 63.4 65.8ZM63.8 63.7 62.6 63.9 62.6 64.9 63.7 64.6ZM63.2 68.8 64.0 67.2 63.5 67.0ZM64.6 65.9 63.7 66.1 63.5 66.7 64.1 66.9ZM64.9 65.2 63.8 65.1 63.7 65.9 64.7 65.6ZM65.4 63.5 64.2 63.7 64.0 64.8 64.9 64.9ZM66.2 61.8 65.4 61.8 65.5 62.9 65.8 62.9ZM64.1 62.0 64.2 63.0 65.1 62.9 65.0 61.9ZM62.6 62.1 62.6 63.2 63.8 63.1 63.8 62.0ZM66.9 65.8 65.8 64.4 64.4 67.9ZM68.1 64.7 67.8 64.4 66.8 65.1 67.1 65.5ZM67.6 64.0 66.3 64.5 66.6 64.9 67.7 64.1ZM69.4 63.7 69.1 63.4 68.8 63.5 69.1 63.9ZM67.8 62.1 67.8 62.5 68.5 63.3 68.9 63.1ZM67.3 63.8 67.7 63.7 67.7 63.5 67.2 62.9 66.9 63.0ZM65.9 64.0 66.1 64.4 67.1 64.0 66.4 62.6ZM70.3 63.1 70.2 61.4 68.0 61.5 69.9 63.4ZM70.9 62.4 70.9 61.4 70.4 61.4 70.5 62.8ZM71.1 59.9 70.5 59.8 70.5 60.8 71.0 60.8ZM69.8 59.8 69.5 60.9 70.2 60.8 70.3 59.8ZM71.1 58.9 70.0 58.9 69.8 59.5 71.0 59.6ZM68.1 58.8 67.9 59.9 69.3 60.4 69.7 58.9ZM67.8 61.1 69.2 61.0 69.3 60.6 67.9 60.1ZM66.2 58.9 66.9 61.1 67.2 61.1 67.5 58.9ZM65.7 58.8 65.9 60.4 66.6 61.1 65.9 58.8ZM65.2 58.8 65.2 59.5 65.5 59.4 65.5 58.8ZM64.3 58.7 65.0 59.4 65.0 58.7ZM63.9 61.3 64.2 61.3 64.2 59.8 63.9 59.8ZM65.6 61.2 64.5 60.0 64.6 61.3ZM62.5 58.8 62.5 60.4 63.6 60.1 63.6 59.0 63.3 58.8ZM62.5 61.5 63.6 61.4 63.6 60.5 62.5 60.7ZM59.2 73.5 58.8 73.3 58.2 73.7 58.4 73.8ZM60.7 71.6 61.3 72.3 62.4 72.1 61.7 70.8ZM65.5 71.8 65.4 71.2 64.8 71.4 64.7 72.1ZM64.7 68.3 63.8 69.1 64.0 69.4 65.0 69.5ZM62.6 70.0 62.9 70.8 63.9 69.8 63.6 69.2ZM59.5 75.5 60.2 74.6 59.8 74.2 59.6 74.5 59.1 74.6 59.0 75.5ZM61.6 78.6 60.9 77.8 60.4 79.2ZM62.2 78.1 61.9 77.4 61.2 77.4 61.1 77.6 61.7 78.3ZM63.8 76.6 61.8 75.5 61.3 76.8 63.9 77.0ZM64.4 78.7 64.1 77.8 63.2 78.3 63.2 78.8ZM65.4 76.7 65.1 77.7 66.0 77.6 66.0 76.7ZM65.1 76.6 64.3 76.5 64.8 77.7ZM66.2 74.6 65.9 74.6 66.6 76.2ZM63.9 75.2 64.1 75.8 64.9 75.9 64.7 74.9ZM65.7 72.4 63.1 73.1 63.6 74.6 66.0 74.0ZM70.4 76.3 69.1 76.3 69.2 76.8 70.4 76.6ZM70.4 75.5 68.8 75.1 69.0 76.0 70.4 76.1ZM70.5 74.0 69.5 73.9 69.5 74.6 70.5 74.9ZM68.4 72.9 68.4 73.3 69.6 73.3 69.5 73.0ZM70.7 70.4 70.1 70.6 69.7 72.4 70.6 72.4ZM68.3 71.1 68.4 72.4 69.4 72.4 69.7 70.7ZM66.4 73.1 67.9 73.3 67.8 72.1 66.2 72.5ZM68.1 70.5 68.1 70.6 70.2 70.0 69.5 69.3ZM67.0 69.3 67.7 70.1 70.5 67.9ZM65.8 69.7 66.5 71.0 67.6 70.7 66.4 69.5ZM70.7 66.8 69.9 65.9 69.1 66.5 69.9 67.5 70.7 67.2ZM68.3 65.4 68.9 66.2 69.7 65.6 69.0 64.8ZM70.9 63.1 69.7 64.2 70.9 65.0ZM66.4 66.9 67.1 68.0 68.8 66.5 68.0 65.5ZM67.5 68.5 68.2 68.2 67.7 67.8 67.3 68.2ZM69.5 67.6 68.9 66.8 67.9 67.7 68.5 68.1ZM65.6 67.5 65.9 68.0 66.6 67.5 66.2 67.0ZM67.2 68.6 66.8 68.0 66.7 68.8ZM65.2 67.9 65.5 69.2 66.2 69.0 65.4 67.8ZM59.7 82.1 60.0 79.8 58.7 80.0 59.1 82.1ZM62.1 79.5 62.0 80.4 62.5 80.4 62.3 79.5ZM64.7 80.4 64.1 80.5 63.9 81.5 64.4 81.6ZM66.3 79.0 64.2 79.3 64.2 79.9 66.3 79.5ZM68.5 82.0 68.4 81.2 67.2 81.3 67.2 82.0ZM68.3 80.2 67.8 80.2 67.9 80.6 68.4 80.6ZM68.3 78.8 66.8 79.0 66.8 79.1 68.3 79.2ZM70.3 82.1 70.3 81.2 68.9 80.9 69.0 82.1ZM70.9 80.2 70.9 80.7 72.0 80.5ZM73.5 82.0 73.8 81.0 72.6 80.7 72.2 82.0ZM74.4 75.0 73.4 75.3 73.3 75.7 74.6 75.8ZM75.9 74.5 74.6 74.9 75.2 77.0ZM76.8 80.2 76.0 80.0 76.1 80.8 76.9 80.9ZM79.3 82.0 79.3 80.8 78.2 81.0 78.3 82.0ZM82.0 78.9 81.7 78.6 80.3 79.0 80.5 80.0 82.0 79.7ZM78.9 80.2 79.9 80.1 79.8 79.6 78.9 79.6ZM77.3 78.1 78.3 79.9 78.3 77.7ZM77.1 78.2 77.2 79.4 77.7 79.3ZM77.4 80.6 78.3 80.4 77.8 79.5 77.2 79.6ZM82.0 74.7 80.6 74.8 81.1 76.0 82.0 75.7ZM79.6 73.6 79.9 75.5 80.4 76.1ZM79.6 76.6 79.5 76.4 78.9 76.5 79.0 76.9ZM77.2 75.8 77.2 74.7 76.7 74.9ZM76.0 75.8 76.9 76.2 76.3 75.1ZM82.0 70.7 81.7 70.7 81.7 71.9 82.0 71.9ZM80.2 70.6 79.9 71.9 81.4 71.9 81.3 70.6ZM80.4 69.8 80.3 70.3 81.7 70.4ZM80.8 68.1 80.4 69.5 81.8 70.1ZM78.7 71.0 79.5 71.2 79.9 69.4ZM78.5 71.2 79.0 73.1 79.4 71.5ZM80.3 67.2 79.5 67.6 80.0 68.3 80.5 67.6ZM80.0 66.5 79.1 67.1 79.3 67.4 80.2 66.9ZM79.3 65.2 78.5 66.3 79.0 66.9 79.9 66.3ZM77.0 68.2 78.2 69.0 79.1 68.0 78.2 66.7ZM79.1 69.6 79.6 68.8 79.2 68.2 78.4 69.1ZM76.6 68.9 77.3 69.4 77.4 69.2 76.7 68.7ZM76.2 69.4 76.9 70.4 77.2 69.7 76.4 69.1ZM77.7 71.5 78.0 71.1 77.5 70.4 77.3 70.9ZM75.3 70.6 76.2 71.1 76.5 70.8 75.8 69.9ZM74.0 72.3 74.7 73.0 75.2 72.3 74.6 71.5ZM73.5 72.8 74.4 73.5 74.6 73.2 73.7 72.5ZM75.3 74.2 76.6 73.9 75.6 72.2 74.5 73.6ZM76.3 73.1 76.6 73.6 76.9 73.4 76.4 72.9ZM76.7 71.0 76.2 71.6 76.7 72.1 77.1 71.6ZM71.7 75.2 72.9 74.8 72.2 74.5ZM82.0 68.1 81.6 68.4 82.0 69.1ZM81.2 67.8 81.4 68.2 82.0 67.8ZM80.2 65.7 82.0 65.4 82.0 65.0 79.9 65.0ZM81.0 67.2 81.5 67.2 81.6 66.2 80.6 66.5ZM82.1 62.5 81.6 62.3 79.9 64.5 82.1 64.4ZM82.0 60.9 80.6 60.7 80.6 60.9 81.7 61.4ZM80.5 62.6 80.7 62.7 81.2 62.1 80.6 61.8ZM79.1 61.3 80.3 62.3 80.3 61.7 79.3 61.2ZM78.7 64.1 79.4 64.1 79.0 62.1ZM80.6 62.9 79.1 61.7 79.6 64.1ZM82.0 60.5 79.8 59.2 79.4 59.2 79.3 60.1ZM82.0 59.2 80.5 59.2 82.0 60.1ZM77.2 59.1 77.2 59.4 78.7 60.1 78.8 59.1ZM76.9 61.3 78.5 61.7 78.6 60.9 77.0 60.6ZM76.6 62.8 77.1 62.8 77.1 61.6 76.8 61.5ZM78.3 62.8 78.4 61.9 77.3 61.7 77.3 62.8ZM76.5 64.0 76.9 64.0 76.9 63.0 76.7 63.0ZM78.2 64.1 78.3 63.0 77.2 63.0 77.2 64.1ZM74.8 60.8 76.5 60.6 76.6 59.9 75.4 59.4ZM74.4 62.0 76.3 62.1 76.4 60.9 74.7 61.0ZM73.6 64.0 74.6 64.0 74.8 62.2 74.3 62.2ZM75.9 64.0 76.1 62.4 75.1 62.3 74.9 64.0ZM72.6 59.0 72.8 60.1 74.5 60.0 74.9 59.1 74.6 59.0ZM73.1 61.8 73.6 61.8 73.3 60.4 72.9 60.4ZM74.4 60.3 73.7 60.4 73.9 61.6ZM71.6 58.9 71.5 61.8 72.8 61.8 72.3 58.9ZM71.4 63.9 71.8 63.9 72.1 62.3 71.5 62.3ZM73.1 64.0 73.4 63.1 72.3 62.8 72.1 63.9ZM73.6 62.4 72.4 62.4 72.3 62.5 73.5 62.8ZM71.4 65.5 73.0 65.6 72.6 64.5 71.4 64.5ZM74.1 65.7 74.1 64.5 72.8 64.5 73.2 65.6ZM72.8 65.9 71.4 65.8 71.4 66.3 71.8 66.8ZM72.7 67.5 72.8 66.4 72.0 67.0 72.4 67.5ZM73.4 67.6 73.5 65.9 73.4 65.9 73.0 66.2 73.0 67.6ZM74.0 67.7 74.0 66.0 73.8 66.0 73.7 67.6ZM76.5 68.1 76.7 67.8 74.9 66.9 74.6 67.3 74.6 67.8ZM77.2 67.2 75.6 65.8 75.0 66.7 76.9 67.6ZM74.6 65.0 74.6 66.3 75.1 65.5ZM71.1 70.4 71.5 70.5 72.1 68.2 71.8 67.9 71.2 67.8ZM73.9 68.3 73.1 68.2 73.8 68.9ZM72.4 69.3 73.2 69.4 72.5 68.7ZM74.0 71.2 74.4 70.7 73.9 70.2 73.8 71.1ZM75.6 69.2 75.2 69.1 75.0 69.8 75.1 69.8ZM76.0 68.6 74.3 68.4 74.2 68.5 75.8 68.9ZM71.7 74.2 71.1 73.6 71.1 75.0ZM71.9 73.9 72.3 73.3 71.2 73.1ZM73.7 71.7 73.1 71.5 72.7 73.0ZM71.9 71.2 71.9 71.5 72.7 71.9 72.9 71.4ZM71.7 72.8 72.4 73.0 72.6 72.2 71.9 71.8ZM71.1 70.9 71.1 72.7 71.4 72.8 71.7 71.1ZM79.1 64.6 78.9 64.6 77.1 66.4 77.5 66.8ZM76.8 64.6 77.1 66.0 78.6 64.6ZM75.0 64.6 76.8 66.2 76.5 64.6ZM57.0 81.7 57.0 82.0 58.3 82.0 58.2 81.7ZM56.8 80.7 56.9 81.4 58.2 81.3 58.0 80.4ZM56.0 80.3 56.0 80.5 57.2 80.2 57.1 79.8ZM56.4 77.0 56.6 78.6 57.6 78.3 57.3 77.0ZM53.3 76.9 53.2 78.2 55.0 77.6 54.8 76.9ZM57.1 75.7 57.0 75.1 56.3 75.5 56.4 76.3ZM54.8 75.2 55.7 75.6 55.5 74.4 54.9 74.4ZM49.8 75.1 50.7 75.1 50.8 74.2 49.7 74.1ZM52.6 77.8 52.8 76.5 52.2 76.4 52.0 78.0ZM51.8 80.2 51.5 79.4 50.9 79.6 51.5 80.3ZM50.2 82.0 52.2 82.0 52.3 80.5 50.1 81.7ZM47.9 75.3 48.8 76.1 49.2 75.0 48.2 74.7ZM47.7 76.0 48.6 76.4 48.6 76.3 47.9 75.6ZM46.9 77.8 49.0 77.6 49.3 77.5 49.3 77.3 47.4 76.6ZM47.9 82.1 48.0 81.7 46.6 81.0 46.3 82.1ZM44.9 76.9 45.8 77.0 45.6 76.1 44.9 76.1ZM42.1 76.8 42.3 76.8 42.5 75.7 42.1 75.7ZM42.2 77.4 43.2 77.6 43.4 77.4 42.2 77.3ZM42.2 79.4 44.2 80.2 44.2 79.1 42.2 78.9ZM44.2 81.5 44.2 80.7 43.1 80.3 42.7 80.6ZM40.1 74.6 41.5 74.6 41.5 73.8 40.3 73.7ZM39.6 76.8 39.7 76.8 40.6 75.1 39.9 75.1ZM40.2 76.9 41.2 76.0 40.3 76.0 39.9 76.8ZM41.5 75.1 40.8 75.1 40.4 75.8 41.6 75.8ZM38.1 74.0 39.7 74.0 39.8 73.7 38.2 73.6ZM39.7 78.2 39.8 77.8 39.4 77.7 39.4 78.1ZM36.7 79.6 37.4 79.6 37.6 78.4 37.1 78.3ZM39.0 79.7 39.4 78.8 38.2 78.5 38.0 79.7ZM41.7 79.9 41.0 79.7 40.6 80.9 41.7 80.7ZM39.0 81.4 40.3 81.0 40.4 80.9 39.4 80.2ZM36.0 73.7 37.6 73.8 37.7 73.6 36.1 73.5ZM35.9 74.7 37.5 74.4 37.6 74.1 36.0 74.0ZM35.9 75.7 37.3 75.2 37.4 74.7 35.9 75.0ZM37.2 75.5 36.2 75.8 37.1 76.1ZM33.0 74.0 35.5 73.8 35.5 73.5 33.0 73.4ZM34.1 74.7 34.3 74.3 33.0 74.4 33.5 74.7ZM32.5 73.4 32.0 73.3 31.9 73.9 32.5 74.2ZM32.3 75.6 32.3 75.0 31.6 75.0 31.5 75.5ZM31.7 77.0 31.9 76.2 31.3 76.1 31.1 76.8ZM32.7 77.3 32.9 76.4 32.2 76.2 32.0 77.1ZM32.4 78.5 32.5 77.8 31.0 77.4 30.9 77.7ZM34.1 76.6 33.4 76.5 33.2 77.2 34.0 77.4ZM34.7 76.8 34.5 78.3 35.1 78.5 35.0 76.9ZM32.1 80.9 31.6 78.7 31.1 78.4 30.5 79.9ZM32.4 82.1 32.2 81.2 31.5 80.7 31.6 82.1ZM33.2 79.5 32.2 79.0 32.8 81.6ZM34.2 80.1 33.7 79.9 33.4 81.3ZM35.5 82.1 35.8 80.9 34.7 80.3 33.6 82.1ZM28.1 79.2 28.1 79.8 29.0 79.6 29.1 79.0ZM29.2 76.7 29.0 78.5 30.0 78.4 30.2 77.2ZM28.4 78.5 27.8 77.6 26.4 78.9ZM25.7 78.8 27.1 77.5 25.5 77.5ZM29.8 75.4 29.2 76.2 30.4 76.7 30.6 75.9ZM30.0 74.9 30.7 75.4 31.0 74.3 30.6 74.1ZM28.0 74.4 29.4 74.9 29.8 74.4 28.3 73.8ZM27.6 75.4 28.7 75.9 29.2 75.2 27.9 74.7ZM26.5 73.5 28.2 73.5 28.3 73.2 26.6 73.1ZM26.4 74.8 27.3 75.2 28.0 73.7 26.5 73.8ZM24.2 73.9 24.5 73.9 24.4 73.0 24.0 73.0ZM23.7 74.0 23.9 74.0 23.7 73.0 23.2 72.9ZM22.8 73.4 22.5 72.9 21.0 72.8 21.2 73.8ZM23.1 75.5 22.9 74.8 21.5 75.1 21.7 75.9ZM23.7 77.6 23.5 76.9 22.0 77.4 22.1 77.9ZM25.1 78.0 23.8 78.2 23.8 79.6 25.3 79.5ZM25.6 82.1 25.5 80.8 24.5 80.9 24.7 82.1ZM0.3 80.3 0.3 80.9 1.5 80.8 1.4 80.1ZM0.2 78.1 0.2 78.8 1.1 78.4 1.0 78.1ZM4.4 82.1 4.7 81.0 3.4 80.8 3.7 82.1ZM5.9 78.0 5.6 78.0 4.7 79.7 5.8 79.8ZM8.7 77.9 6.4 78.0 6.4 78.6 8.8 79.0ZM6.4 73.6 7.3 73.7 7.4 72.8 6.6 72.9ZM2.5 74.4 2.5 74.0 2.0 73.9 1.7 74.4ZM1.9 77.5 1.4 76.3 1.2 77.5ZM3.1 77.5 2.9 76.5 2.1 77.4 2.2 77.5ZM2.8 75.8 1.5 76.0 1.7 76.4 2.8 75.9ZM9.3 77.7 9.4 79.2 9.8 79.2 10.1 77.7ZM13.8 77.7 12.6 77.7 12.7 79.8 13.5 79.6ZM14.7 73.9 14.3 73.9 13.9 75.3 14.4 75.4ZM14.0 80.1 13.8 80.8 14.4 81.0 14.8 80.0ZM18.2 79.7 17.7 79.8 17.5 81.3 18.6 81.5ZM21.1 80.6 21.1 81.2 22.0 80.8 21.9 80.3ZM20.4 77.5 20.3 78.2 21.5 78.4 21.4 78.2ZM19.3 76.8 19.4 78.0 20.1 78.1 20.2 77.4ZM17.6 79.1 18.8 79.0 18.7 77.2 17.8 77.0ZM17.0 75.2 16.3 75.5 17.0 79.3 17.3 75.5ZM14.1 79.5 16.5 79.3 16.3 78.5 14.2 79.0ZM2.0 69.1 0.3 69.5 0.3 69.5 1.9 69.8ZM4.0 67.6 3.6 67.6 3.5 68.0 4.0 67.9ZM0.3 67.4 0.3 68.1 1.5 68.2 1.5 67.4ZM0.3 68.9 1.5 68.6 1.5 68.5 0.3 68.5ZM6.1 70.6 4.4 71.2 4.4 71.3 6.1 71.4ZM6.6 70.4 6.4 70.5 6.3 71.4 6.7 71.4ZM4.5 69.0 4.5 69.6 4.8 69.7 4.8 69.0ZM6.2 66.5 4.5 67.0 4.5 67.0 6.3 67.1ZM4.0 67.0 4.0 65.9 2.7 65.6 2.7 66.9ZM5.6 60.8 3.5 60.7 3.5 60.9 5.7 61.6ZM5.4 59.0 4.5 58.8 4.2 60.1 5.5 60.2ZM7.7 71.1 7.3 71.1 7.3 71.5 7.8 71.5ZM9.5 69.8 8.2 69.6 8.2 70.5 9.6 70.5ZM11.4 70.8 10.3 70.7 10.5 71.6 11.1 71.6ZM14.1 71.1 12.4 71.1 12.4 71.7 14.0 71.8ZM13.6 69.1 13.3 70.6 14.6 70.7 14.7 69.4ZM12.3 68.7 12.3 69.8 13.0 69.9 13.2 69.0ZM15.1 69.0 15.1 68.7 14.8 68.6 12.5 68.2ZM14.8 65.2 13.7 65.1 13.6 65.6 14.9 66.0ZM12.9 65.3 13.3 65.4 13.5 64.1ZM11.3 66.7 10.9 64.7 10.5 66.4ZM14.6 62.8 13.6 62.4 13.4 62.7 14.6 63.2ZM11.9 60.0 11.2 62.0 12.5 62.5 13.3 60.3ZM7.6 63.6 8.4 63.6 8.4 62.4 8.0 62.3ZM9.4 63.8 9.6 62.4 8.7 62.3 8.7 63.8ZM6.9 59.2 6.7 60.0 8.1 60.2 8.4 59.4ZM18.5 70.8 17.7 70.0 17.4 71.9ZM18.6 70.6 19.0 70.2 18.0 69.9ZM17.9 69.3 17.8 69.6 18.5 69.8 18.5 69.3ZM17.6 68.4 17.7 68.7 19.3 68.7 19.1 67.7ZM17.2 67.4 17.5 68.1 18.1 67.8 17.8 67.2ZM15.7 68.7 17.0 68.7 16.9 68.5ZM17.1 65.4 18.8 66.2 18.5 65.0ZM17.6 63.3 17.4 64.2 17.9 64.6 18.4 64.4 18.2 63.6ZM16.8 62.8 16.7 63.6 17.1 63.9 17.3 63.1ZM17.2 64.8 16.5 64.3 16.5 65.0ZM18.0 62.7 17.8 61.8 17.1 62.2ZM15.2 63.1 16.0 63.5 16.1 63.0ZM15.3 64.6 15.9 64.9 16.0 64.2 15.2 63.8ZM17.4 60.5 17.0 59.5 15.9 60.2ZM15.7 59.2 15.8 59.7 16.6 59.1ZM14.6 59.9 15.3 60.1 15.0 58.7 14.5 58.9ZM13.3 59.7 14.0 59.8 13.9 59.0 13.2 59.1ZM14.5 56.8 14.5 57.4 16.1 57.3 15.9 56.8ZM15.9 56.6 15.8 56.1 14.6 56.7ZM12.9 56.9 12.9 57.3 14.0 57.3 13.9 56.2ZM14.1 55.5 14.1 54.7 13.7 54.8 13.8 55.7ZM13.3 53.2 13.2 53.5 15.0 53.4ZM12.3 52.7 12.3 52.8 15.2 53.1 15.1 52.4ZM14.6 51.2 14.3 51.9 15.0 51.9 15.0 51.1ZM13.6 51.4 13.6 52.0 14.0 51.9 14.3 51.3ZM12.2 51.6 12.2 52.1 13.3 52.0 13.3 51.4ZM10.7 49.5 11.3 49.4 11.1 48.0 10.6 47.6 10.0 48.2ZM10.4 49.5 9.9 48.5 8.9 49.7ZM8.5 51.2 11.3 49.9 8.5 50.3ZM11.5 51.4 10.3 51.8 10.3 52.2 11.6 51.9ZM11.4 50.4 10.7 50.7 11.0 51.3 11.5 51.1ZM10.1 51.0 10.2 51.6 10.8 51.4 10.5 50.8ZM3.9 57.6 4.1 56.3 3.8 56.3 3.1 57.3ZM7.8 58.7 8.1 57.7 7.5 58.7ZM9.2 59.0 9.1 57.9 8.5 57.7 8.2 58.8ZM8.8 55.5 8.2 55.5 9.0 57.1ZM8.6 53.5 7.5 53.5 7.4 53.9 7.9 55.0 8.8 55.0ZM9.5 56.0 9.6 57.3 10.2 57.2 10.1 56.0ZM11.9 53.5 11.8 53.5 11.0 55.5 12.1 55.5ZM10.2 54.7 10.5 55.4 10.8 54.5ZM1.8 53.0 1.3 52.7 1.4 53.3 1.7 53.3ZM0.3 52.6 0.3 53.5 1.0 53.4 1.0 52.4ZM2.8 53.9 2.7 54.5 3.4 54.7 3.4 54.5ZM3.7 46.2 3.4 46.6 4.8 47.3 5.2 46.1ZM2.8 47.2 3.6 47.6 3.9 47.1 3.2 46.7ZM2.4 46.3 2.3 47.0 2.9 46.3ZM0.2 48.2 1.0 48.6 1.8 47.5 0.2 47.4ZM0.9 41.9 2.0 41.7 1.8 41.1 1.0 40.5ZM0.3 42.6 2.6 42.7 2.7 41.9 0.3 42.2ZM2.5 44.0 2.0 44.3 2.3 45.7ZM2.5 2.0 2.6 1.4 2.0 1.3 1.9 1.9ZM2.6 0.3 2.1 0.3 2.1 1.0 2.6 1.0ZM0.3 6.4 0.8 6.4 0.9 4.8 0.3 4.7ZM6.5 0.3 5.5 0.3 5.2 0.7 6.4 1.4ZM7.2 3.9 7.7 3.6 7.3 3.1ZM9.4 1.7 8.6 1.4 8.9 2.6 9.4 2.6ZM2.1 7.1 1.8 8.0 2.5 8.0 2.3 7.1ZM5.1 10.1 5.0 9.1 4.0 9.3 3.9 10.0ZM5.6 7.2 4.2 7.2 4.1 8.4 5.6 8.4ZM9.3 7.3 9.0 7.3 8.3 8.5 9.3 9.1ZM10.7 9.3 9.8 8.9 9.8 9.5 10.5 9.5ZM12.5 8.0 10.8 7.6 10.7 8.1 12.4 8.2ZM12.0 5.8 11.8 7.2 11.9 7.2 12.4 5.9ZM11.0 5.7 10.8 7.0 11.2 7.1 11.5 5.7ZM12.2 2.4 12.2 3.0 12.6 3.0 12.6 2.3ZM9.9 3.1 9.8 4.4 10.5 4.3 10.4 2.9ZM16.0 10.9 15.8 9.5 14.4 9.8 14.5 10.8ZM15.7 8.9 14.4 8.9 14.4 9.5 15.7 9.1ZM17.4 11.1 17.2 9.4 16.3 9.8 16.5 11.1ZM18.9 11.2 18.8 10.7 17.8 10.4 17.8 11.2ZM18.7 10.1 17.8 10.0 17.8 10.1 18.8 10.4ZM19.9 8.8 19.2 8.9 19.3 10.1 20.5 9.9ZM18.6 6.6 17.8 6.9 18.2 7.7 18.9 7.1ZM14.4 8.3 15.1 8.3 15.0 7.3 14.3 7.3ZM16.4 8.4 16.1 7.2 15.2 7.2 15.3 8.4ZM18.0 8.4 17.4 7.2 16.6 7.2 16.9 8.4ZM24.4 11.6 24.5 10.3 24.0 10.2 23.4 11.5ZM28.6 12.0 28.5 11.3 27.7 11.5 27.8 11.9ZM29.6 12.1 29.3 10.9 28.7 11.1 28.9 12.1ZM28.7 8.3 26.8 8.8 27.0 9.5 28.9 9.2ZM25.0 9.3 26.2 10.4 26.6 10.0 26.3 9.0ZM27.1 11.4 26.8 10.5 26.5 10.8ZM28.3 6.9 27.5 7.1 27.7 8.1 28.5 7.9ZM27.8 5.4 27.4 5.5 27.3 6.6 28.0 6.4ZM25.7 5.8 25.1 7.4 25.1 7.4 26.7 6.9 26.8 5.5ZM27.2 2.8 26.2 3.9 27.7 4.6ZM23.6 9.0 23.1 7.9 22.7 7.9 21.2 9.6ZM27.0 2.0 25.6 2.3 25.7 3.7 27.0 2.2ZM23.8 5.8 22.8 4.5 22.3 4.9 23.4 6.3ZM19.5 7.1 21.0 5.9 20.4 4.8 18.7 5.6ZM20.2 8.3 20.5 7.5 20.2 7.4 19.8 7.7ZM20.7 9.2 21.6 8.3 20.7 7.7 20.4 8.6ZM22.1 7.8 21.3 6.4 20.4 7.2 21.8 8.1ZM26.8 1.5 26.7 1.1 26.0 1.6ZM24.8 0.3 24.4 1.9 25.3 1.8ZM23.2 0.3 22.6 0.3 23.0 1.9ZM18.2 0.3 18.1 0.9 18.9 0.9 19.1 0.3ZM17.9 3.2 18.4 3.1 18.9 1.2 18.0 1.2ZM30.4 9.8 29.5 9.7 30.0 11.3ZM30.5 9.6 30.1 8.2 29.1 8.2 29.4 9.4ZM28.8 6.8 29.1 7.9 29.8 7.9 30.3 7.0ZM31.6 5.5 29.9 5.1 31.1 6.5 31.3 6.5ZM30.4 6.5 29.5 5.4 28.8 6.3ZM30.1 1.3 30.1 2.2 31.6 1.7 31.4 1.1ZM30.1 3.4 30.9 3.2 30.9 2.3 30.1 2.6ZM32.0 3.0 31.7 2.0 31.1 2.2 31.2 3.2ZM28.0 3.9 28.4 3.8 28.2 2.5 27.7 2.5ZM29.5 3.5 29.4 2.3 28.5 2.4 28.7 3.7ZM33.8 12.4 30.8 10.6 30.4 12.1ZM35.0 11.2 34.4 10.7 33.6 11.6 34.8 12.4ZM33.5 10.1 32.9 11.2 33.3 11.5 34.2 10.5ZM35.2 10.0 34.0 9.2 33.6 9.9 35.1 10.9ZM35.3 9.0 35.0 8.9 34.7 9.3 35.2 9.6ZM34.3 8.6 34.1 9.0 34.4 9.2 34.8 8.8ZM31.6 7.6 31.4 8.3 33.9 8.4ZM31.1 9.0 32.1 9.9 32.7 8.8 31.2 8.7ZM32.7 10.5 33.5 8.9 33.0 8.9 32.3 10.1ZM35.5 7.8 33.7 7.3 33.5 7.7 35.4 8.4ZM35.7 6.1 34.4 5.9 34.0 6.8 35.5 7.2ZM32.1 5.6 31.7 7.1 33.0 7.6 33.8 5.8ZM35.9 4.7 35.0 4.7 34.8 5.4 35.8 5.5ZM36.1 3.5 34.2 2.9 33.8 4.1 36.0 4.1ZM32.9 2.6 32.6 4.0 33.5 4.0 34.0 2.9ZM36.6 0.3 36.0 0.3 35.4 1.3 36.4 1.4ZM34.2 0.3 35.2 1.3 35.7 0.3ZM33.6 0.3 33.1 2.0 34.5 2.4 35.0 1.6 33.8 0.3ZM37.6 9.6 37.1 10.8 39.5 10.3ZM40.3 9.5 37.9 8.6 37.7 9.2 40.0 10.2ZM37.7 7.0 37.0 7.8 37.7 7.8 37.9 7.1ZM36.1 7.7 36.4 7.7 36.3 7.1 36.1 7.1ZM35.9 8.5 36.9 8.6 36.9 8.0 36.0 8.0ZM37.3 8.7 37.6 8.0 37.2 8.0 37.1 8.7ZM40.2 11.0 39.5 12.7 40.2 12.6ZM41.3 11.0 40.8 10.9 40.8 12.5 41.4 12.4ZM41.6 11.1 41.7 12.3 43.1 12.1 43.0 11.4ZM41.9 10.1 41.7 10.5 42.9 10.7ZM41.0 9.5 40.6 10.3 41.4 10.4 41.6 9.9ZM41.4 8.6 41.3 8.9 42.9 10.0 42.8 9.1ZM41.5 5.9 40.8 7.6 42.7 8.4 42.4 5.9ZM40.0 7.3 40.2 7.4 40.7 6.1ZM39.4 7.0 40.1 6.0 37.2 6.1ZM40.7 4.6 40.8 5.4 42.4 5.3 42.3 4.3ZM41.6 2.7 41.6 3.1 42.1 3.0 42.1 2.6ZM40.6 2.9 40.8 4.3 41.3 4.2 41.3 2.8ZM38.9 3.2 38.9 3.7 40.1 3.5 40.0 3.0ZM38.7 5.4 40.2 5.4 40.1 4.1 38.8 4.3ZM41.1 1.7 41.3 2.2 42.0 2.1 41.9 1.3ZM40.8 1.2 41.0 1.5 41.9 1.1 41.9 0.5ZM40.4 0.2 40.8 1.0 41.8 0.3 41.8 0.2ZM39.2 0.3 39.2 0.9 40.0 0.7 39.9 0.3ZM39.0 2.5 40.7 2.3 40.3 1.3 39.1 1.6ZM37.1 0.3 37.1 0.4 38.6 0.6 38.6 0.3ZM36.8 2.8 38.4 3.0 36.8 2.4ZM36.6 3.8 38.2 4.7 38.3 3.3 36.7 3.1ZM36.3 5.6 38.2 5.5 38.2 5.3 36.5 4.3ZM7.2 10.8 6.5 10.7 6.3 12.1ZM2.7 15.9 2.4 15.2 1.9 15.2 1.9 15.6ZM5.1 19.0 5.1 18.7 3.7 18.4 3.6 19.0ZM3.9 16.6 4.7 16.9 5.4 16.1 4.6 15.5ZM11.8 18.6 12.0 17.8 11.5 17.9ZM13.0 18.6 13.3 17.5 12.4 17.2 12.0 18.6ZM13.8 15.2 12.5 14.9 12.5 15.4 13.7 15.6ZM13.5 18.5 14.4 16.7 14.0 16.6ZM15.5 18.4 15.9 17.3 14.8 16.9 14.1 18.5ZM16.8 14.8 16.7 14.8 16.0 16.8 16.5 16.9ZM14.5 14.7 14.2 15.8 15.7 15.8 16.1 14.8ZM17.1 12.8 16.1 12.8 16.1 13.2 17.0 13.4ZM2.0 21.2 2.0 21.0 0.9 21.1 1.0 21.8ZM0.3 23.1 1.0 23.4 0.8 22.7ZM2.6 21.0 2.9 22.2 3.3 20.9ZM5.7 25.5 5.1 24.3 4.5 25.0ZM7.5 26.4 8.0 24.9 6.9 26.1ZM8.0 23.8 5.5 23.9 8.1 24.4ZM0.3 24.8 1.7 24.4 0.3 23.8ZM0.2 30.8 0.4 30.8 0.8 28.7 0.2 28.6ZM1.7 29.9 1.1 29.9 1.0 30.2 1.6 30.3ZM2.9 30.7 2.9 29.2 2.3 29.2 2.1 30.7ZM4.4 30.8 3.7 27.3 3.5 27.3 3.5 30.8ZM6.3 30.2 6.3 29.4 5.9 29.5 6.0 30.4ZM5.8 27.4 4.2 27.3 4.4 28.1 5.9 28.0ZM7.6 30.9 7.3 30.2 6.1 30.9ZM10.2 30.9 9.9 28.9 9.1 29.4 8.7 30.9ZM11.3 26.7 12.2 26.8 12.4 25.7ZM10.6 25.3 10.4 26.6 10.7 26.7 11.0 25.3ZM10.9 19.2 10.9 19.5 12.2 19.3 12.2 19.2ZM4.7 33.7 4.7 33.3 3.6 33.5 3.6 34.0ZM4.6 32.5 3.5 32.7 3.5 33.2 4.7 33.0ZM5.3 36.7 4.8 36.7 4.7 37.1 5.3 37.1ZM5.1 35.6 4.5 35.6 4.4 36.3 5.2 36.4ZM0.3 38.8 1.5 39.2 1.7 38.1 0.3 37.9ZM3.6 38.3 2.3 38.1 2.2 38.7 3.7 39.5ZM9.7 31.5 9.2 31.5 8.5 33.1 9.0 33.2ZM8.0 33.0 8.3 33.1 8.6 32.4 8.0 32.2ZM13.9 34.4 13.3 34.2 12.6 35.9 13.6 36.2ZM14.1 32.9 13.9 32.9 13.6 33.6 14.0 33.8ZM12.1 32.7 12.0 33.1 12.8 33.4 13.1 32.8ZM10.5 31.5 10.5 31.8 11.6 31.8 11.6 31.6ZM8.9 34.6 9.2 34.7 10.1 33.5 9.5 33.3ZM10.8 35.3 10.8 33.8 10.4 35.2ZM6.2 41.8 5.7 42.0 5.3 42.7 5.9 43.2ZM9.1 44.3 8.6 45.2 9.3 45.7ZM12.5 43.3 11.8 43.7 12.2 44.2 12.4 43.9ZM10.7 40.0 10.5 40.5 11.2 40.6 11.2 40.4ZM10.3 41.5 10.8 41.6 11.0 40.8 10.4 40.8ZM10.1 42.1 10.8 42.1 10.8 41.8 10.2 41.7ZM13.0 40.4 12.9 39.8 12.4 40.8 12.9 41.2ZM13.7 39.6 13.6 39.7 14.1 41.7 15.5 39.8ZM15.0 39.3 15.5 39.3 16.0 38.1 15.1 38.2ZM14.5 33.9 14.2 35.9 16.3 35.3 16.4 34.9ZM15.8 32.5 15.1 33.6 15.7 33.9 16.1 32.6ZM14.8 31.9 14.6 33.4 14.9 33.5 15.6 32.3ZM18.8 32.1 18.3 33.1 18.6 33.2 19.1 32.3ZM18.1 31.8 17.8 32.8 18.0 32.9 18.4 32.0ZM16.8 31.0 16.5 32.3 17.5 32.7 17.8 31.5ZM15.1 30.2 14.9 31.4 16.3 32.1 16.6 30.9ZM17.9 28.5 18.5 29.0 19.1 28.3ZM16.9 28.7 16.8 29.1 17.7 30.0 18.4 29.2 17.6 28.6ZM16.8 30.3 17.2 30.6 17.5 30.2 16.9 29.5ZM15.6 29.0 15.3 29.6 16.2 30.1 16.4 28.8ZM18.9 25.5 19.1 26.9 20.0 26.6ZM17.7 24.3 17.3 25.2 18.4 25.4 18.3 24.9ZM17.3 26.2 18.4 25.9 18.4 25.7 17.3 25.5ZM16.7 28.3 16.7 26.6 15.9 28.4ZM21.2 26.4 20.9 26.8 21.4 27.3 21.7 26.8ZM21.6 25.8 21.4 26.1 21.9 26.6 22.1 26.0ZM22.4 24.3 21.7 25.5 22.3 25.7 22.9 24.9ZM21.9 23.6 20.6 25.5 21.0 26.2 22.3 24.1ZM20.8 22.3 20.3 22.8 21.3 24.2 21.8 23.5ZM19.6 23.7 19.9 24.2 20.6 23.7 20.2 23.1ZM20.5 25.2 20.8 24.8 20.3 24.4 20.1 24.5ZM21.2 24.4 20.8 23.9 20.5 24.1 21.0 24.6ZM18.7 24.5 19.3 25.1 19.7 24.6 19.3 23.9ZM20.1 26.0 20.5 25.6 19.9 24.7 19.4 25.4ZM25.2 20.8 24.7 21.6 25.0 21.8 25.5 21.3ZM24.8 20.0 23.8 21.0 24.4 21.5 25.1 20.4ZM25.4 19.5 25.0 19.8 25.8 21.0 26.2 20.4ZM24.6 18.6 24.3 18.9 24.7 19.2 25.0 19.0ZM23.8 19.4 24.3 19.7 24.5 19.5 24.1 19.1ZM22.8 20.3 23.4 20.7 24.2 19.9 23.5 19.6ZM21.0 18.3 22.3 20.1 23.2 19.2 22.3 18.0ZM22.8 17.3 22.9 16.8 21.8 17.6ZM18.9 19.0 19.6 18.2 19.8 17.7 19.7 17.6 18.6 18.5ZM20.6 21.8 21.3 21.1 20.9 20.8 20.3 21.2ZM21.9 20.5 21.7 20.2 21.1 20.6 21.5 20.9ZM16.3 22.2 17.4 23.2 17.6 22.6 16.4 21.5ZM18.3 24.1 18.8 23.6 18.2 23.1 17.9 23.8ZM20.2 22.2 19.8 21.5 18.8 21.8 18.5 22.5 19.3 23.2ZM16.6 21.0 17.4 21.6 18.2 21.2 18.5 20.6 18.1 20.1ZM20.7 14.1 20.5 14.2 21.0 14.9 21.2 14.6ZM19.9 14.5 20.4 15.6 20.8 15.4 20.9 15.2 20.3 14.3ZM19.2 15.2 19.8 16.0 20.2 15.7 19.8 14.7ZM20.1 13.4 18.6 14.1 19.0 14.7 20.3 13.6ZM18.6 11.8 17.9 11.7 17.7 12.7 17.9 13.1 18.9 12.1ZM16.9 17.9 19.1 16.5 17.2 15.8ZM27.1 16.9 26.9 17.2 27.9 18.7 28.0 18.6ZM26.8 16.3 25.1 18.2 25.3 18.4ZM26.0 14.9 24.9 15.6 25.1 16.1 26.4 15.7ZM25.5 16.9 26.3 16.0 25.2 16.3ZM23.4 16.3 24.7 17.8 25.2 17.3 24.4 15.8ZM23.9 15.4 25.4 14.6 24.6 14.0ZM28.4 17.8 28.4 18.3 29.2 17.6ZM29.9 17.0 29.5 16.1 28.6 16.4 28.4 17.6 29.6 17.3ZM27.6 16.6 28.1 17.6 28.3 16.0ZM28.6 14.3 26.9 15.1 27.3 16.0 28.8 14.7ZM31.0 15.2 29.4 13.8 29.0 14.0 30.2 16.5ZM30.8 13.8 30.6 13.3 30.0 13.6ZM31.6 14.0 32.2 12.9 31.8 12.9 30.9 13.3 31.1 13.8ZM29.1 12.6 29.3 13.3 30.6 12.7ZM27.6 12.4 27.6 12.9 28.9 12.6 28.8 12.5ZM27.9 14.0 29.1 13.4 28.9 12.8 27.7 13.1ZM26.4 12.4 26.3 13.2 27.1 12.8 27.0 12.4ZM26.5 14.6 27.4 14.2 27.3 14.0 26.4 14.3ZM31.5 15.2 30.9 16.3 31.8 15.8ZM32.5 13.8 31.9 14.7 32.4 15.5 33.1 15.1ZM35.3 13.1 35.0 13.1 35.3 14.0 36.0 13.8ZM36.3 13.2 36.7 13.6 37.4 13.3ZM41.2 18.4 42.7 17.2 41.9 16.4 40.7 17.8ZM40.3 14.1 42.1 13.0 40.1 13.4ZM39.8 14.3 40.1 14.2 39.9 13.4 39.2 13.6ZM38.4 14.3 39.1 13.9 38.9 13.6 38.1 13.9ZM38.8 14.9 39.6 14.4 39.3 14.2 38.6 14.6ZM36.6 15.3 37.5 14.2 37.5 14.1 36.2 14.5ZM35.9 16.2 36.4 15.6 35.9 14.6 35.2 14.9ZM36.5 17.2 38.5 16.6 37.2 15.1 36.1 16.4ZM39.2 16.4 37.8 14.4 37.4 14.9 38.7 16.5ZM37.8 19.4 38.6 19.0 37.7 17.4 36.8 17.7ZM40.3 18.2 40.1 17.9 38.7 18.4 38.9 18.8ZM39.4 16.8 37.9 17.3 38.5 18.2 40.0 17.6ZM38.5 20.7 40.7 18.8 40.5 18.5 38.0 19.7ZM39.0 21.5 41.1 20.5 40.6 19.7 38.8 21.2ZM42.2 20.1 41.4 19.0 40.8 19.5 41.4 20.4ZM43.6 19.5 43.0 19.0 42.0 19.5 42.4 20.0ZM42.1 18.3 41.5 18.8 41.9 19.3 42.8 18.8ZM43.9 19.3 43.7 17.1 42.4 18.2 43.8 19.3ZM39.7 22.9 41.2 22.0 40.7 21.3 39.2 22.0ZM40.4 24.0 42.1 23.4 41.3 22.2 39.9 23.1ZM42.0 20.7 40.9 21.2 42.3 23.3 43.2 23.0ZM42.3 20.7 43.5 23.0 44.3 22.9 44.0 19.9ZM35.1 16.4 35.3 16.2 34.8 15.4 34.6 15.6ZM34.7 16.8 34.9 16.6 34.1 15.4 33.1 15.9ZM31.4 17.8 32.8 17.1 32.3 16.4 31.0 17.1ZM32.0 18.7 33.4 17.7 33.0 17.2 31.5 18.0ZM30.5 18.2 31.1 17.7 30.8 17.3 30.2 17.8ZM31.3 19.2 31.8 18.8 31.4 18.3 30.9 18.7ZM32.0 19.9 34.0 19.3 33.3 18.5 31.7 19.6ZM29.4 20.8 30.4 18.8 29.9 18.1 28.3 19.4ZM29.8 21.2 31.5 20.3 30.6 19.1 29.6 20.9ZM30.9 22.5 32.4 21.5 31.8 20.8 30.3 21.7ZM31.4 23.2 32.1 22.7 31.7 22.4 31.1 22.8ZM33.0 22.1 32.6 21.7 31.9 22.2 32.3 22.6ZM33.2 25.4 33.3 25.2 32.3 23.3 31.8 23.7ZM34.2 23.6 33.0 22.7 32.6 23.0 33.5 24.9ZM35.0 22.1 34.3 21.7 33.1 22.6 34.3 23.4ZM35.2 21.4 35.1 21.2 34.5 21.6 35.0 21.9ZM33.6 26.0 34.5 25.2 33.8 24.8 33.4 25.8ZM35.5 24.3 34.7 23.1 34.0 24.6 34.7 25.0ZM36.4 23.6 35.4 21.8 34.9 22.8 35.7 24.1ZM36.3 22.4 36.7 21.8 35.7 21.2ZM36.8 23.3 38.2 22.7 36.9 21.9 36.5 22.6ZM28.4 21.5 28.8 20.9 27.9 19.7 27.0 20.7ZM28.0 22.3 28.3 21.8 26.8 21.0 26.5 21.3ZM26.7 22.9 26.8 22.3 26.1 21.8 25.5 22.4ZM27.6 23.2 27.8 22.8 27.1 22.4 26.9 23.0ZM28.8 26.7 29.3 25.8 27.9 25.0 27.2 25.8ZM30.4 24.0 29.7 23.5 28.6 25.1 29.5 25.6ZM28.4 22.7 27.7 24.0 28.2 24.2 28.2 24.5 28.0 24.8 28.3 25.0 29.4 23.4ZM30.8 23.3 29.2 21.3 28.6 22.5 30.5 23.7ZM30.5 25.8 29.8 25.5 29.2 26.6ZM30.9 25.5 30.2 24.9 30.0 25.2ZM32.1 24.9 30.9 23.4 30.3 24.6 31.2 25.4ZM30.3 27.5 31.4 25.6 29.3 27.0ZM32.2 28.6 32.1 25.1 30.6 27.7ZM34.0 29.6 34.8 28.5 34.5 28.0 32.5 28.6 32.5 28.7ZM33.6 26.9 33.4 27.0 33.7 27.9 34.2 27.7ZM32.4 27.5 32.4 28.3 33.4 28.0 33.1 27.1ZM32.4 25.5 32.5 27.1 33.4 26.7ZM23.8 26.4 24.6 25.1 23.9 24.7 23.0 26.1ZM24.3 26.6 25.4 25.5 24.8 25.2 24.0 26.5ZM23.8 27.1 24.1 26.8 22.9 26.3 22.8 26.3ZM23.4 27.5 23.6 27.2 22.7 26.5 22.6 26.8ZM21.9 28.8 23.1 27.6 22.4 27.1 21.6 28.7ZM23.4 29.4 22.9 28.8 22.5 29.1ZM24.2 28.1 23.5 28.0 23.0 28.5 23.6 29.3ZM24.6 30.1 24.7 29.1 24.2 29.9ZM26.2 30.7 26.4 30.4 25.7 29.7 24.9 30.0 24.9 30.2ZM25.0 29.0 24.9 29.7 25.5 29.5ZM27.9 28.4 27.3 28.3 26.3 30.0 26.6 30.2ZM26.6 28.3 25.9 29.4 26.2 29.7 27.0 28.4ZM25.4 28.3 25.1 28.7 25.6 29.2 26.1 28.3ZM28.5 27.3 27.3 26.6 26.6 27.7 28.1 27.9ZM26.8 26.3 25.9 27.6 25.8 27.7 26.2 27.7 27.0 26.4ZM25.9 25.8 24.1 27.5 24.9 27.6 25.6 26.7ZM21.9 30.3 22.4 29.6 21.3 29.2 20.8 30.2ZM22.7 30.5 23.1 30.0 22.5 29.7 22.1 30.4ZM21.8 30.8 21.9 30.6 20.7 30.4 20.6 30.7ZM20.9 31.9 20.9 31.0 20.5 30.9 20.2 31.6ZM21.3 32.1 21.6 31.1 21.2 31.1 21.2 32.0ZM22.2 30.7 21.9 31.6 22.5 30.7ZM24.3 33.6 25.1 32.4 22.4 32.7ZM25.4 31.9 24.1 31.9 24.0 32.2 25.3 32.0ZM22.7 31.8 22.2 32.4 23.7 32.2 23.8 31.8ZM25.9 31.2 23.8 30.3 22.9 31.5 25.7 31.6ZM25.9 34.4 26.4 32.3 26.0 32.1 24.9 33.9ZM27.6 35.2 28.3 33.2 26.7 32.5 26.2 34.5ZM28.2 35.6 29.5 33.8 28.6 33.3 27.9 35.4ZM30.6 36.7 31.2 34.7 29.7 34.0 28.5 35.7ZM30.7 32.8 30.2 33.5 31.4 34.1 31.6 33.8ZM30.1 31.9 29.9 32.2 30.4 32.7 30.6 32.5ZM29.2 33.0 29.8 33.3 30.2 32.9 29.8 32.4ZM30.6 32.2 31.7 33.6 32.2 32.6ZM31.9 31.1 31.6 32.2 32.3 32.3 32.8 31.5ZM31.2 30.9 30.4 31.8 30.4 31.8 31.3 32.0 31.6 31.1ZM32.4 29.3 31.3 30.6 32.9 31.3 33.7 30.0ZM31.1 28.6 30.3 30.7 30.7 31.0 32.3 29.2ZM30.3 28.1 30.0 29.0 30.6 29.2 30.9 28.5ZM29.7 30.1 30.1 30.4 30.5 29.4 30.0 29.3ZM29.1 27.5 28.4 28.5 29.7 29.3 30.0 28.0ZM28.2 28.8 29.5 29.9 29.6 29.6ZM26.4 31.6 27.6 32.2 29.0 30.0 28.1 29.1ZM28.9 32.9 29.4 32.3 28.4 31.7 27.9 32.4ZM30.5 31.2 29.3 30.1 28.5 31.4 29.6 32.1ZM17.5 42.5 18.0 41.3 16.9 41.0 16.6 42.2ZM17.0 47.0 18.1 46.1 17.5 45.0 16.1 45.5ZM18.0 48.6 19.0 48.0 18.2 46.4 17.2 47.2ZM18.6 49.5 19.4 48.9 19.1 48.2 18.2 48.8ZM20.7 48.1 20.1 46.7 18.9 47.2 19.7 48.8ZM19.0 44.4 17.8 44.9 18.8 46.9 19.9 46.4ZM16.4 48.2 16.9 47.7 16.0 46.3 15.8 47.8ZM16.6 48.3 17.5 48.7 17.0 47.9ZM17.2 48.9 15.8 48.1 15.9 50.0ZM17.5 50.3 17.0 49.4 16.4 49.9 16.7 50.9ZM18.7 51.4 18.2 50.4 16.9 51.3 17.3 51.6ZM20.7 51.0 20.0 49.2 18.4 50.3 18.9 51.3ZM21.9 50.8 20.9 48.5 20.4 48.9 21.2 50.9ZM24.5 45.6 24.0 46.0 24.8 47.9 25.4 47.6ZM22.2 47.4 24.0 46.6 23.8 46.1ZM22.7 48.5 24.4 47.9 24.0 46.9 22.4 47.8ZM21.3 48.2 21.6 49.0 22.5 48.7 22.0 47.6ZM24.0 44.6 22.5 45.2 22.8 46.2 24.2 45.0ZM23.7 43.9 22.3 44.4 22.5 44.8 23.9 44.3ZM23.3 42.7 21.9 43.2 22.2 44.1 23.6 43.5ZM19.6 44.2 20.1 45.4 21.9 45.1 21.4 43.5ZM21.0 47.7 22.4 46.6 22.0 45.3 20.2 45.7ZM20.4 51.6 17.9 52.0 19.5 53.3ZM20.5 52.9 20.1 52.8 19.8 53.4 20.1 53.7ZM21.3 51.4 20.7 51.5 20.5 51.9 20.9 52.1ZM21.5 53.1 20.8 52.9 20.3 53.8 21.0 54.3ZM22.2 51.2 21.6 51.3 20.9 52.7 21.5 52.9ZM23.0 51.1 22.5 51.2 21.2 54.5 21.6 54.8ZM28.0 53.0 27.7 50.3 26.3 50.5 27.2 54.0ZM29.1 51.6 28.2 51.7 28.3 52.6ZM29.8 50.9 29.6 49.9 28.0 50.2 28.1 51.4 29.5 51.3ZM25.9 72.0 26.6 71.4 25.9 70.8ZM26.1 72.3 28.1 72.4 26.8 71.6ZM24.5 70.1 25.3 70.7 25.3 70.3 24.7 69.8ZM24.1 71.0 25.4 71.6 25.3 70.9 24.5 70.3ZM23.2 69.8 23.9 70.3 24.3 69.4 23.8 69.0ZM22.5 71.0 23.5 71.2 23.7 70.5 23.1 70.1ZM19.5 65.9 19.7 66.8 20.3 65.6ZM21.7 69.9 21.6 69.1 21.1 69.0 20.7 69.5 20.3 69.4 20.4 70.2ZM23.0 69.1 22.2 69.1 22.3 70.2ZM25.6 68.0 24.3 66.5 23.4 67.6 24.9 68.9ZM23.7 65.9 22.9 67.0 23.2 67.4 24.0 66.3ZM26.2 67.1 25.3 66.3 24.9 66.6 25.8 67.6ZM27.0 66.1 26.4 65.7 25.9 66.4 26.4 66.9ZM26.1 65.4 25.4 66.0 25.7 66.2 26.2 65.5ZM24.9 64.6 23.9 65.7 24.6 66.5 25.9 65.3ZM29.6 67.9 29.2 67.6 27.8 69.1 28.4 69.4ZM28.3 66.9 27.7 68.4 27.9 68.7 29.1 67.5ZM27.5 66.4 26.9 67.2 27.5 68.1 28.1 66.8ZM26.2 68.2 27.6 68.9 27.7 68.8 26.7 67.5ZM28.0 63.6 28.5 63.1 27.0 62.1 26.8 62.3ZM27.3 64.3 27.8 63.9 26.9 63.0ZM26.7 65.2 27.1 64.7 26.5 62.7 25.2 64.2ZM29.9 71.0 29.4 70.5 28.3 71.6 28.7 71.9ZM31.0 70.0 30.5 70.9 31.6 71.9 31.8 71.2ZM30.7 69.6 30.0 70.3 30.3 70.6 30.7 69.7ZM31.2 69.8 31.9 70.7 32.1 70.0ZM31.8 68.8 31.6 69.5 32.2 69.6 32.3 69.2ZM31.6 68.5 30.8 69.3 30.9 69.5 31.3 69.6ZM32.2 67.9 31.8 68.4 32.4 68.8 32.6 68.1ZM30.8 67.3 30.3 67.9 30.8 68.6 31.6 67.7ZM29.1 69.4 29.6 69.9 30.6 68.8 30.1 68.2ZM31.7 66.3 31.2 66.8 32.8 67.5 32.9 67.1ZM32.2 65.6 31.9 65.9 33.0 66.7 33.1 66.1ZM32.4 65.3 33.2 65.8 33.5 64.6 33.2 64.3ZM21.8 64.7 21.3 63.9 20.7 64.5 21.5 65.4ZM23.0 65.6 23.8 64.6 21.7 63.5ZM23.8 62.9 23.8 64.3 24.0 64.5 25.0 63.3ZM23.8 62.2 23.8 62.6 25.2 63.1 25.3 62.9ZM22.9 63.8 23.6 64.2 23.5 62.4ZM23.3 61.9 21.9 63.3 22.6 63.7 23.4 61.9ZM25.1 61.1 24.4 61.8 25.7 62.4 26.1 62.0ZM24.6 60.5 23.6 61.4 24.1 61.7 25.0 60.9ZM25.3 59.7 24.8 60.3 26.3 61.8 26.5 61.4ZM26.9 61.0 27.6 60.2 27.3 59.9ZM25.5 59.5 26.2 60.4 26.9 59.7 26.0 59.0ZM26.6 61.0 26.9 60.1 26.3 60.6ZM24.3 59.2 24.7 59.6 25.6 58.7 25.1 58.3ZM23.0 57.7 24.1 59.0 24.9 58.2 23.6 57.2ZM21.0 59.3 22.0 59.9 23.0 58.6 22.5 58.1ZM22.6 60.2 23.6 59.1 23.2 58.7 22.2 60.0ZM23.5 60.7 24.3 60.0 23.7 59.3 22.8 60.3ZM20.0 60.1 21.3 61.2 22.6 60.6 20.8 59.5ZM22.3 62.0 23.3 61.0 22.9 60.7 21.6 61.4ZM21.2 57.9 21.4 58.3 23.1 56.9 22.5 56.4ZM20.6 55.4 22.0 56.6 22.3 56.3 20.9 55.2ZM20.1 55.9 21.0 57.6 21.8 56.8 20.5 55.6ZM18.9 56.8 21.2 58.5 21.2 58.5 19.9 56.0ZM20.3 59.1 20.9 58.6 19.0 57.2ZM17.7 57.8 17.8 58.4 18.1 58.6 19.2 57.8 18.6 57.0ZM19.0 59.3 19.6 58.4 19.3 58.0 18.2 58.7ZM19.5 59.8 20.2 59.3 19.7 58.6 19.1 59.5ZM19.2 60.2 18.0 59.2 18.5 61.0ZM20.5 61.3 19.4 60.4 18.7 61.3 19.2 62.1ZM20.9 63.5 20.4 62.7 19.8 63.1 20.4 64.0ZM21.9 62.4 21.5 62.0 20.6 62.7 21.1 63.3ZM21.1 61.7 20.2 62.2 20.5 62.5 21.3 61.9ZM20.1 55.2 19.3 54.5 17.8 57.1ZM20.4 54.9 19.6 54.3 19.5 54.4 20.3 55.0ZM18.1 55.6 18.6 54.7 17.0 54.0ZM17.9 55.9 17.0 54.6 17.4 56.7ZM16.5 52.6 16.6 53.2 17.7 52.8 16.7 52.1ZM14.3 49.4 15.0 49.9 14.9 48.9ZM14.8 48.6 14.8 48.5 14.1 48.5 14.0 49.2ZM14.7 48.1 13.2 48.1 13.0 48.4ZM13.6 46.3 14.1 45.5 13.7 43.5 12.5 45.0ZM13.1 47.1 13.4 46.6 12.3 45.3 11.9 45.8ZM12.1 46.5 11.7 46.1 11.0 47.0 11.5 47.3ZM12.9 47.4 12.3 46.7 11.7 47.4 12.5 48.0ZM14.9 45.4 15.2 46.5 15.3 45.7ZM14.6 44.2 14.7 44.7 15.4 45.1 15.5 44.0ZM14.4 43.0 14.6 43.9 15.5 43.7 15.5 43.7ZM15.6 43.4 15.7 42.8 14.3 42.7 14.3 42.7ZM16.1 41.1 16.4 40.0 15.5 41.1ZM15.4 42.2 15.1 41.6 14.7 42.1ZM9.1 48.2 9.5 47.7 8.7 47.2 8.6 48.1ZM8.7 46.9 9.6 47.5 9.9 47.1 8.8 46.3ZM7.5 49.9 7.9 48.5 7.0 48.3 6.6 49.3ZM6.2 52.0 6.9 51.1 6.5 50.8 5.7 51.7Z" stroke-opacity="0.7" stroke-width="0.22"/></g>
<linearGradient id="g1" x1="0" y1="0" x2="1" y2="0"><stop offset="0" stop-color="#82008d"/><stop offset="0.22" stop-color="#7a0097"/><stop offset="0.35" stop-color="#5500c3"/><stop offset="0.5" stop-color="#0c00f6"/><stop offset="0.7" stop-color="#0017f2"/><stop offset="1" stop-color="#002ee5"/></linearGradient>
<linearGradient id="g2" x1="0" y1="1" x2="1" y2="0.6"><stop offset="0" stop-color="#0050d2"/><stop offset="0.4" stop-color="#002ee5"/><stop offset="1" stop-color="#0017f2"/></linearGradient>
<radialGradient id="g2b" cx="0.02" cy="0.12" r="0.62"><stop offset="0" stop-color="#00a89a"/><stop offset="0.3" stop-color="#00a0a8"/><stop offset="0.55" stop-color="#0080c8" stop-opacity="0.85"/><stop offset="0.8" stop-color="#0058d8" stop-opacity="0.45"/><stop offset="1" stop-color="#0040e0" stop-opacity="0"/></radialGradient>
<linearGradient id="g3" x1="0" y1="0.575" x2="1" y2="0.425"><stop offset="0" stop-color="#0000ff"/><stop offset="0.15" stop-color="#0017f2"/><stop offset="0.27" stop-color="#0039df"/><stop offset="0.4" stop-color="#006eb4"/><stop offset="0.5" stop-color="#009489"/><stop offset="0.6" stop-color="#00b653"/><stop offset="0.75" stop-color="#00da1a"/><stop offset="0.9" stop-color="#00eb00"/><stop offset="1" stop-color="#0aee00"/></linearGradient>
<linearGradient id="g4" x1="0" y1="0.3" x2="1" y2="0"><stop offset="0" stop-color="#00c878"/><stop offset="0.22" stop-color="#00d24a"/><stop offset="0.45" stop-color="#00e60a"/><stop offset="0.7" stop-color="#46fa00"/><stop offset="0.85" stop-color="#82ff00"/><stop offset="1" stop-color="#b4ff00"/></linearGradient>
<radialGradient id="g4b" cx="0.84" cy="0.95" r="0.68"><stop offset="0" stop-color="#000bf9" stop-opacity="1"/><stop offset="0.32" stop-color="#0017f2" stop-opacity="1"/><stop offset="0.5" stop-color="#0064be" stop-opacity="1"/><stop offset="0.68" stop-color="#00ad61" stop-opacity="1"/><stop offset="0.85" stop-color="#00cf2c" stop-opacity="0.6"/><stop offset="1" stop-color="#00e012" stop-opacity="0"/></radialGradient>
<linearGradient id="g5" x1="0" y1="0" x2="1" y2="1"><stop offset="0" stop-color="#00c934"/><stop offset="0.25" stop-color="#00e509"/><stop offset="0.5" stop-color="#14f200"/><stop offset="1" stop-color="#28f800"/></linearGradient>
<radialGradient id="g5b" cx="0.83" cy="0.87" r="0.64"><stop offset="0" stop-color="#ff6700" stop-opacity="1"/><stop offset="0.25" stop-color="#ff8200" stop-opacity="1"/><stop offset="0.4" stop-color="#ffc800" stop-opacity="1"/><stop offset="0.52" stop-color="#ffff00" stop-opacity="1"/><stop offset="0.68" stop-color="#9aff00" stop-opacity="0.9"/><stop offset="0.85" stop-color="#3cff00" stop-opacity="0.5"/><stop offset="1" stop-color="#14f200" stop-opacity="0"/></radialGradient>
<linearGradient id="g6" x1="0.2" y1="1" x2="0.6" y2="0"><stop offset="0" stop-color="#ff1900"/><stop offset="0.1" stop-color="#ff2600"/><stop offset="0.19" stop-color="#ff4500"/><stop offset="0.28" stop-color="#ff6700"/><stop offset="0.34" stop-color="#ff8e00"/><stop offset="0.45" stop-color="#ffda00"/><stop offset="0.53" stop-color="#d4ff00"/><stop offset="0.62" stop-color="#8cff00"/><stop offset="0.71" stop-color="#57ff00"/><stop offset="0.8" stop-color="#14f200"/><stop offset="0.88" stop-color="#00da1a"/><stop offset="1" stop-color="#00be46"/></linearGradient>
<radialGradient id="g6b" cx="1" cy="0.05" r="0.6"><stop offset="0" stop-color="#000bf9" stop-opacity="1"/><stop offset="0.4" stop-color="#0022ec" stop-opacity="1"/><stop offset="0.6" stop-color="#0064be" stop-opacity="1"/><stop offset="0.8" stop-color="#00ad61" stop-opacity="0.8"/><stop offset="1" stop-color="#00e012" stop-opacity="0"/></radialGradient>
<linearGradient id="g7" x1="0" y1="0" x2="0" y2="1"><stop offset="0" stop-color="#8cff00"/><stop offset="0.25" stop-color="#a9ff00"/><stop offset="0.4" stop-color="#f1ff00"/><stop offset="0.5" stop-color="#ffed00"/><stop offset="0.65" stop-color="#ffc800"/><stop offset="0.8" stop-color="#ffa500"/><stop offset="1" stop-color="#ff9900"/></linearGradient>
<radialGradient id="g7b" cx="0.8" cy="0.89" r="0.45"><stop offset="0" stop-color="#ff3200" stop-opacity="1"/><stop offset="0.3" stop-color="#ff3f00" stop-opacity="1"/><stop offset="0.55" stop-color="#ff6700" stop-opacity="1"/><stop offset="0.8" stop-color="#ff8200" stop-opacity="0.6"/><stop offset="1" stop-color="#ff9900" stop-opacity="0"/></radialGradient>
<linearGradient id="g8" x1="0" y1="0" x2="0" y2="1"><stop offset="0" stop-color="#ff0000"/><stop offset="0.35" stop-color="#ff0500"/><stop offset="0.5" stop-color="#ff2600"/><stop offset="0.62" stop-color="#ff5a00"/><stop offset="0.72" stop-color="#ff8700"/><stop offset="1" stop-color="#ff9500"/></linearGradient>
</defs>
<g transform="translate(324.2 5.3)">
<rect width="82.3" height="82.3" fill="url(#g1)"/>
<use href="#bld"/>
<rect width="82.3" height="82.3" fill="none" stroke="#666" stroke-width="0.5"/>
<rect x="0" y="0" width="26.4" height="11.2" fill="#fff" stroke="#666" stroke-width="0.5"/>
<rect x="59.0" y="0" width="23.3" height="11.2" fill="#fff" stroke="#666" stroke-width="0.5"/>
<text transform="translate(4.1 9.0) scale(0.93 1)" font-size="6.5" fill="#262626">30<tspan font-size="9" dx="0.55">-</tspan><tspan dx="0.55">35</tspan></text>
<text transform="translate(63.2 9.0) scale(0.91 1)" font-size="6.5" fill="#262626">R740</text>
</g>
<g transform="translate(412.5 5.3)">
<rect width="82.3" height="82.3" fill="url(#g2)"/>
<rect width="82.3" height="82.3" fill="url(#g2b)"/>
<use href="#bld"/>
<rect width="82.3" height="82.3" fill="none" stroke="#666" stroke-width="0.5"/>
<rect x="0" y="0" width="26.4" height="11.2" fill="#fff" stroke="#666" stroke-width="0.5"/>
<rect x="59.0" y="0" width="23.3" height="11.2" fill="#fff" stroke="#666" stroke-width="0.5"/>
<text transform="translate(4.1 9.0) scale(0.93 1)" font-size="6.5" fill="#262626">35<tspan font-size="9" dx="0.55">-</tspan><tspan dx="0.55">40</tspan></text>
<text transform="translate(63.2 9.0) scale(0.91 1)" font-size="6.5" fill="#262626">R577</text>
</g>
<g transform="translate(324.2 93.65)">
<rect width="82.3" height="82.3" fill="url(#g3)"/>
<use href="#bld"/>
<rect width="82.3" height="82.3" fill="none" stroke="#666" stroke-width="0.5"/>
<rect x="0" y="0" width="26.4" height="11.2" fill="#fff" stroke="#666" stroke-width="0.5"/>
<rect x="59.0" y="0" width="23.3" height="11.2" fill="#fff" stroke="#666" stroke-width="0.5"/>
<text transform="translate(4.1 9.0) scale(0.93 1)" font-size="6.5" fill="#262626">40<tspan font-size="9" dx="0.55">-</tspan><tspan dx="0.55">45</tspan></text>
<text transform="translate(63.2 9.0) scale(0.91 1)" font-size="6.5" fill="#262626">R5</text>
</g>
<g transform="translate(412.5 93.65)">
<rect width="82.3" height="82.3" fill="url(#g4)"/>
<rect width="82.3" height="82.3" fill="url(#g4b)"/>
<use href="#bld"/>
<rect width="82.3" height="82.3" fill="none" stroke="#666" stroke-width="0.5"/>
<rect x="0" y="0" width="26.4" height="11.2" fill="#fff" stroke="#666" stroke-width="0.5"/>
<rect x="59.0" y="0" width="23.3" height="11.2" fill="#fff" stroke="#666" stroke-width="0.5"/>
<text transform="translate(4.1 9.0) scale(0.93 1)" font-size="6.5" fill="#262626">45<tspan font-size="9" dx="0.55">-</tspan><tspan dx="0.55">50</tspan></text>
<text transform="translate(63.2 9.0) scale(0.91 1)" font-size="6.5" fill="#262626">R387</text>
</g>
<g transform="translate(324.2 182.0)">
<rect width="82.3" height="82.3" fill="url(#g5)"/>
<rect width="82.3" height="82.3" fill="url(#g5b)"/>
<use href="#bld"/>
<rect width="82.3" height="82.3" fill="none" stroke="#666" stroke-width="0.5"/>
<rect x="0" y="0" width="26.4" height="11.2" fill="#fff" stroke="#666" stroke-width="0.5"/>
<rect x="59.0" y="0" width="23.3" height="11.2" fill="#fff" stroke="#666" stroke-width="0.5"/>
<text transform="translate(4.1 9.0) scale(0.93 1)" font-size="6.5" fill="#262626">50<tspan font-size="9" dx="0.55">-</tspan><tspan dx="0.55">55</tspan></text>
<text transform="translate(63.2 9.0) scale(0.91 1)" font-size="6.5" fill="#262626">R827</text>
</g>
<g transform="translate(412.5 182.0)">
<rect width="82.3" height="82.3" fill="url(#g6)"/>
<rect width="82.3" height="82.3" fill="url(#g6b)"/>
<use href="#bld"/>
<rect width="82.3" height="82.3" fill="none" stroke="#666" stroke-width="0.5"/>
<rect x="0" y="0" width="26.4" height="11.2" fill="#fff" stroke="#666" stroke-width="0.5"/>
<rect x="59.0" y="0" width="23.3" height="11.2" fill="#fff" stroke="#666" stroke-width="0.5"/>
<text transform="translate(4.1 9.0) scale(0.93 1)" font-size="6.5" fill="#262626">55<tspan font-size="9" dx="0.55">-</tspan><tspan dx="0.55">60</tspan></text>
<text transform="translate(63.2 9.0) scale(0.91 1)" font-size="6.5" fill="#262626">R130</text>
</g>
<g transform="translate(324.2 270.3)">
<rect width="82.3" height="82.3" fill="url(#g7)"/>
<rect width="82.3" height="82.3" fill="url(#g7b)"/>
<use href="#bld"/>
<rect width="82.3" height="82.3" fill="none" stroke="#666" stroke-width="0.5"/>
<rect x="0" y="0" width="26.4" height="11.2" fill="#fff" stroke="#666" stroke-width="0.5"/>
<rect x="59.0" y="0" width="23.3" height="11.2" fill="#fff" stroke="#666" stroke-width="0.5"/>
<text transform="translate(4.1 9.0) scale(0.93 1)" font-size="6.5" fill="#262626">60<tspan font-size="9" dx="0.55">-</tspan><tspan dx="0.55">65</tspan></text>
<text transform="translate(63.2 9.0) scale(0.91 1)" font-size="6.5" fill="#262626">R362</text>
</g>
<g transform="translate(412.5 270.3)">
<rect width="82.3" height="82.3" fill="url(#g8)"/>
<use href="#bld"/>
<rect width="82.3" height="82.3" fill="none" stroke="#666" stroke-width="0.5"/>
<rect x="0" y="0" width="26.4" height="11.2" fill="#fff" stroke="#666" stroke-width="0.5"/>
<rect x="59.0" y="0" width="23.3" height="11.2" fill="#fff" stroke="#666" stroke-width="0.5"/>
<text transform="translate(4.1 9.0) scale(0.93 1)" font-size="6.5" fill="#262626">65<tspan font-size="9" dx="0.55">-</tspan><tspan dx="0.55">70</tspan></text>
<text transform="translate(63.2 9.0) scale(0.91 1)" font-size="6.5" fill="#262626">R32</text>
</g>
<rect x="503.8" y="29.00" width="11.6" height="7.93" fill="#ff2600"/>
<rect x="503.8" y="36.63" width="11.6" height="7.93" fill="#ff3f00"/>
<rect x="503.8" y="44.27" width="11.6" height="7.93" fill="#ff5a00"/>
<rect x="503.8" y="51.90" width="11.6" height="7.93" fill="#ff7500"/>
<rect x="503.8" y="59.53" width="11.6" height="7.93" fill="#ff8e00"/>
<rect x="503.8" y="67.16" width="11.6" height="7.93" fill="#ffa500"/>
<rect x="503.8" y="74.80" width="11.6" height="7.93" fill="#ffbc00"/>
<rect x="503.8" y="82.43" width="11.6" height="7.93" fill="#ffd100"/>
<rect x="503.8" y="90.06" width="11.6" height="7.93" fill="#ffe400"/>
<rect x="503.8" y="97.69" width="11.6" height="7.93" fill="#fff600"/>
<rect x="503.8" y="105.33" width="11.6" height="7.93" fill="#f1ff00"/>
<rect x="503.8" y="112.96" width="11.6" height="7.93" fill="#d4ff00"/>
<rect x="503.8" y="120.59" width="11.6" height="7.93" fill="#b7ff00"/>
<rect x="503.8" y="128.22" width="11.6" height="7.93" fill="#9aff00"/>
<rect x="503.8" y="135.86" width="11.6" height="7.93" fill="#7fff00"/>
<rect x="503.8" y="143.49" width="11.6" height="7.93" fill="#64ff00"/>
<rect x="503.8" y="151.12" width="11.6" height="7.93" fill="#49ff00"/>
<rect x="503.8" y="158.75" width="11.6" height="7.93" fill="#32fc00"/>
<rect x="503.8" y="166.38" width="11.6" height="7.93" fill="#1ef500"/>
<rect x="503.8" y="174.02" width="11.6" height="7.93" fill="#0aee00"/>
<rect x="503.8" y="181.65" width="11.6" height="7.93" fill="#00e509"/>
<rect x="503.8" y="189.28" width="11.6" height="7.93" fill="#00da1a"/>
<rect x="503.8" y="196.92" width="11.6" height="7.93" fill="#00cf2c"/>
<rect x="503.8" y="204.55" width="11.6" height="7.93" fill="#00c43d"/>
<rect x="503.8" y="212.18" width="11.6" height="7.93" fill="#00b653"/>
<rect x="503.8" y="219.81" width="11.6" height="7.93" fill="#00a56e"/>
<rect x="503.8" y="227.44" width="11.6" height="7.93" fill="#009489"/>
<rect x="503.8" y="235.08" width="11.6" height="7.93" fill="#0082a0"/>
<rect x="503.8" y="242.71" width="11.6" height="7.93" fill="#006eb4"/>
<rect x="503.8" y="250.34" width="11.6" height="7.93" fill="#005ac8"/>
<rect x="503.8" y="257.98" width="11.6" height="7.93" fill="#0045d8"/>
<rect x="503.8" y="265.61" width="11.6" height="7.93" fill="#002ee5"/>
<rect x="503.8" y="273.24" width="11.6" height="7.93" fill="#0017f2"/>
<rect x="503.8" y="280.87" width="11.6" height="7.93" fill="#0000ff"/>
<rect x="503.8" y="288.50" width="11.6" height="7.93" fill="#1800ee"/>
<rect x="503.8" y="296.14" width="11.6" height="7.93" fill="#3100dd"/>
<rect x="503.8" y="303.77" width="11.6" height="7.93" fill="#4900cc"/>
<rect x="503.8" y="311.40" width="11.6" height="7.93" fill="#5d00b9"/>
<rect x="503.8" y="319.04" width="11.6" height="7.93" fill="#6e00a5"/>
<rect x="503.8" y="326.67" width="11.6" height="7.93" fill="#7f0091"/>
<rect x="503.8" y="29.0" width="11.6" height="305.30" fill="none" stroke="#555" stroke-width="0.3"/>
<g font-size="6.1" fill="#262626">
<text transform="translate(518.7 31.90) scale(0.91 1)">70</text>
<text transform="translate(518.7 62.44) scale(0.91 1)">66</text>
<text transform="translate(518.7 92.98) scale(0.91 1)">62</text>
<text transform="translate(518.7 123.52) scale(0.91 1)">58</text>
<text transform="translate(518.7 154.06) scale(0.91 1)">54</text>
<text transform="translate(518.7 184.60) scale(0.91 1)">50</text>
<text transform="translate(518.7 215.14) scale(0.91 1)">46</text>
<text transform="translate(518.7 245.68) scale(0.91 1)">42</text>
<text transform="translate(518.7 276.22) scale(0.91 1)">38</text>
<text transform="translate(518.7 306.76) scale(0.91 1)">34</text>
<text transform="translate(518.7 337.30) scale(0.91 1)">30</text>
</g>
<path d="M515.4 29.50h-1.6M515.4 59.95h-1.6M515.4 90.40h-1.6M515.4 120.85h-1.6M515.4 151.30h-1.6M515.4 181.75h-1.6M515.4 212.20h-1.6M515.4 242.65h-1.6M515.4 273.10h-1.6M515.4 303.55h-1.6M515.4 334.00h-1.6" stroke="#222" stroke-width="0.5"/>
<text x="502.1" y="14.5" font-size="6.6" textLength="45.2" lengthAdjust="spacingAndGlyphs" fill="#262626">Rainfall Intensity</text>
<text x="502.1" y="22.6" font-size="6.6" textLength="18" lengthAdjust="spacingAndGlyphs" fill="#262626">[mm/h]</text>
<rect x="503.6" y="343.0" width="12" height="6.9" fill="#fff" stroke="#666" stroke-width="0.5"/>
<text transform="translate(519.5 349.4) scale(0.91 1)" font-size="6.5" fill="#262626">Buildings</text>
</svg>
</body></html>
